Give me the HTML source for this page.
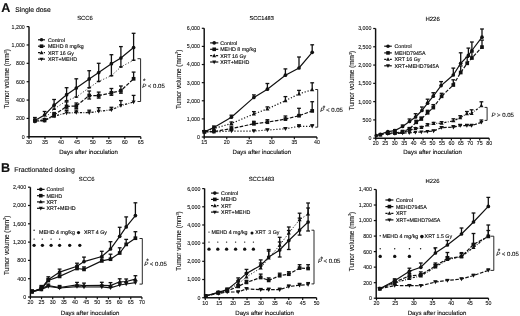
<!DOCTYPE html>
<html><head><meta charset="utf-8"><title>Tumor growth figure</title>
<style>
html,body{margin:0;padding:0;background:#fff;}
body{width:520px;height:316px;overflow:hidden;}
svg{display:block;}
svg text{font-family:"Liberation Sans", Arial, sans-serif;stroke:currentColor;stroke-width:0.12px;text-rendering:geometricPrecision;}
svg line,svg path.l{stroke:#111;}
svg text.tk{fill:#222;stroke-width:0.1px;text-rendering:auto;}
</style></head>
<body>
<svg width="520" height="316" viewBox="0 0 520 316" fill="#111">
<rect width="520" height="316" fill="#fff" stroke="none"/>
<g stroke="none">
</g>
<g>
<text x="1.3" y="11.6" font-size="12.6" font-weight="bold">A</text>
<text x="15.2" y="12.4" font-size="6.8" text-anchor="start" fill="#111">Single dose</text>
<text x="0.9" y="171.8" font-size="12.6" font-weight="bold">B</text>
<text x="14.2" y="172" font-size="6.9" text-anchor="start" fill="#111">Fractionated dosing</text>
<text x="85" y="19.6" font-size="5.9" text-anchor="middle" fill="#111">SCC6</text>
<path class="l" d="M29 26.6 L29 136.8 L140.8 136.8" fill="none" stroke-width="1.45"/>
<line x1="26.6" y1="136.8" x2="29" y2="136.8" stroke-width="1.2" />
<text x="24.8" y="138.7" font-size="5.3" text-anchor="end" class="tk">0</text>
<line x1="26.6" y1="118.43" x2="29" y2="118.43" stroke-width="1.2" />
<text x="24.8" y="120.33" font-size="5.3" text-anchor="end" class="tk">200</text>
<line x1="26.6" y1="100.07" x2="29" y2="100.07" stroke-width="1.2" />
<text x="24.8" y="101.97" font-size="5.3" text-anchor="end" class="tk">400</text>
<line x1="26.6" y1="81.7" x2="29" y2="81.7" stroke-width="1.2" />
<text x="24.8" y="83.6" font-size="5.3" text-anchor="end" class="tk">600</text>
<line x1="26.6" y1="63.33" x2="29" y2="63.33" stroke-width="1.2" />
<text x="24.8" y="65.23" font-size="5.3" text-anchor="end" class="tk">800</text>
<line x1="26.6" y1="44.97" x2="29" y2="44.97" stroke-width="1.2" />
<text x="24.8" y="46.87" font-size="5.3" text-anchor="end" class="tk">1,000</text>
<line x1="26.6" y1="26.6" x2="29" y2="26.6" stroke-width="1.2" />
<text x="24.8" y="28.5" font-size="5.3" text-anchor="end" class="tk">1,200</text>
<line x1="29" y1="136.8" x2="29" y2="139" stroke-width="1.2" />
<text x="29" y="143.7" font-size="5.3" text-anchor="middle" class="tk">30</text>
<line x1="44.97" y1="136.8" x2="44.97" y2="139" stroke-width="1.2" />
<text x="44.97" y="143.7" font-size="5.3" text-anchor="middle" class="tk">35</text>
<line x1="60.94" y1="136.8" x2="60.94" y2="139" stroke-width="1.2" />
<text x="60.94" y="143.7" font-size="5.3" text-anchor="middle" class="tk">40</text>
<line x1="76.91" y1="136.8" x2="76.91" y2="139" stroke-width="1.2" />
<text x="76.91" y="143.7" font-size="5.3" text-anchor="middle" class="tk">45</text>
<line x1="92.89" y1="136.8" x2="92.89" y2="139" stroke-width="1.2" />
<text x="92.89" y="143.7" font-size="5.3" text-anchor="middle" class="tk">50</text>
<line x1="108.86" y1="136.8" x2="108.86" y2="139" stroke-width="1.2" />
<text x="108.86" y="143.7" font-size="5.3" text-anchor="middle" class="tk">55</text>
<line x1="124.83" y1="136.8" x2="124.83" y2="139" stroke-width="1.2" />
<text x="124.83" y="143.7" font-size="5.3" text-anchor="middle" class="tk">60</text>
<line x1="140.8" y1="136.8" x2="140.8" y2="139" stroke-width="1.2" />
<text x="140.8" y="143.7" font-size="5.3" text-anchor="middle" class="tk">65</text>
<line x1="38" y1="39.8" x2="45" y2="39.8" stroke-width="1.2" />
<circle cx="41.5" cy="39.8" r="1.8"/>
<text x="47.9" y="41.7" font-size="5.3" text-anchor="start" fill="#111">Control</text>
<line x1="38" y1="46.2" x2="45" y2="46.2" stroke-width="1.2" />
<rect x="39.7" y="44.4" width="3.6" height="3.6"/>
<text x="47.9" y="48.1" font-size="5.3" text-anchor="start" fill="#111">MEHD 8 mg/kg</text>
<line x1="38" y1="52.7" x2="45" y2="52.7" stroke-width="1.2" stroke-dasharray="2.2 1.4 0.8 1.4"/>
<path d="M41.5 50.54L43.48 54.14L39.52 54.14Z"/>
<text x="47.9" y="54.6" font-size="5.3" text-anchor="start" fill="#111">XRT 16 Gy</text>
<line x1="38" y1="59.1" x2="45" y2="59.1" stroke-width="1.2" />
<path d="M41.5 61.26L43.48 57.66L39.52 57.66Z"/>
<text x="47.9" y="61" font-size="5.3" text-anchor="start" fill="#111">XRT+MEHD</text>
<path class="l" d="M34.9 121.5 L44.6 120.5 L54.1 116 L66.6 113 L76.3 112.6 L89.2 112.7 L98.7 111.3 L111.4 109.9 L120.9 105.6 L133.6 102" fill="none" stroke-width="1.2" stroke-dasharray="2.2 1.4 0.8 1.4"/>
<line x1="34.9" y1="120" x2="34.9" y2="121.5" stroke-width="1.3" />
<line x1="33" y1="120" x2="36.8" y2="120" stroke-width="1.3" />
<path d="M34.9 123.72L36.94 120.02L32.86 120.02Z"/>
<line x1="44.6" y1="119" x2="44.6" y2="120.5" stroke-width="1.3" />
<line x1="42.7" y1="119" x2="46.5" y2="119" stroke-width="1.3" />
<path d="M44.6 122.72L46.64 119.02L42.56 119.02Z"/>
<line x1="54.1" y1="114" x2="54.1" y2="116" stroke-width="1.3" />
<line x1="52.2" y1="114" x2="56" y2="114" stroke-width="1.3" />
<path d="M54.1 118.22L56.14 114.52L52.06 114.52Z"/>
<line x1="66.6" y1="110.5" x2="66.6" y2="113" stroke-width="1.3" />
<line x1="64.7" y1="110.5" x2="68.5" y2="110.5" stroke-width="1.3" />
<path d="M66.6 115.22L68.63 111.52L64.56 111.52Z"/>
<line x1="76.3" y1="110.1" x2="76.3" y2="112.6" stroke-width="1.3" />
<line x1="74.4" y1="110.1" x2="78.2" y2="110.1" stroke-width="1.3" />
<path d="M76.3 114.82L78.33 111.12L74.27 111.12Z"/>
<line x1="89.2" y1="110.2" x2="89.2" y2="112.7" stroke-width="1.3" />
<line x1="87.3" y1="110.2" x2="91.1" y2="110.2" stroke-width="1.3" />
<path d="M89.2 114.92L91.23 111.22L87.17 111.22Z"/>
<line x1="98.7" y1="107.7" x2="98.7" y2="111.3" stroke-width="1.3" />
<line x1="96.8" y1="107.7" x2="100.6" y2="107.7" stroke-width="1.3" />
<path d="M98.7 113.52L100.73 109.82L96.67 109.82Z"/>
<line x1="111.4" y1="107.3" x2="111.4" y2="109.9" stroke-width="1.3" />
<line x1="109.5" y1="107.3" x2="113.3" y2="107.3" stroke-width="1.3" />
<path d="M111.4 112.12L113.44 108.42L109.37 108.42Z"/>
<line x1="120.9" y1="100.6" x2="120.9" y2="105.6" stroke-width="1.3" />
<line x1="119" y1="100.6" x2="122.8" y2="100.6" stroke-width="1.3" />
<path d="M120.9 107.82L122.94 104.12L118.87 104.12Z"/>
<line x1="133.6" y1="95.4" x2="133.6" y2="102" stroke-width="1.3" />
<line x1="131.7" y1="95.4" x2="135.5" y2="95.4" stroke-width="1.3" />
<path d="M133.6 104.22L135.63 100.52L131.56 100.52Z"/>
<path class="l" d="M34.9 121 L44.6 120.5 L54.1 115 L66.6 106.4 L76.3 106 L89.2 95.5 L98.7 95.6 L111.4 92.8 L120.9 90.7 L133.6 78.8" fill="none" stroke-width="1.2" stroke-dasharray="3.6 1.5"/>
<line x1="34.9" y1="119" x2="34.9" y2="121" stroke-width="1.3" />
<line x1="33" y1="119" x2="36.8" y2="119" stroke-width="1.3" />
<rect x="33.05" y="119.15" width="3.7" height="3.7"/>
<line x1="44.6" y1="118.5" x2="44.6" y2="120.5" stroke-width="1.3" />
<line x1="42.7" y1="118.5" x2="46.5" y2="118.5" stroke-width="1.3" />
<rect x="42.75" y="118.65" width="3.7" height="3.7"/>
<line x1="54.1" y1="112.5" x2="54.1" y2="115" stroke-width="1.3" />
<line x1="52.2" y1="112.5" x2="56" y2="112.5" stroke-width="1.3" />
<line x1="54.1" y1="115" x2="54.1" y2="117" stroke-width="1.3" />
<line x1="52.2" y1="117" x2="56" y2="117" stroke-width="1.3" />
<rect x="52.25" y="113.15" width="3.7" height="3.7"/>
<line x1="66.6" y1="101.9" x2="66.6" y2="106.4" stroke-width="1.3" />
<line x1="64.7" y1="101.9" x2="68.5" y2="101.9" stroke-width="1.3" />
<line x1="66.6" y1="106.4" x2="66.6" y2="108.9" stroke-width="1.3" />
<line x1="64.7" y1="108.9" x2="68.5" y2="108.9" stroke-width="1.3" />
<rect x="64.75" y="104.55" width="3.7" height="3.7"/>
<line x1="76.3" y1="103" x2="76.3" y2="106" stroke-width="1.3" />
<line x1="74.4" y1="103" x2="78.2" y2="103" stroke-width="1.3" />
<line x1="76.3" y1="106" x2="76.3" y2="108.5" stroke-width="1.3" />
<line x1="74.4" y1="108.5" x2="78.2" y2="108.5" stroke-width="1.3" />
<rect x="74.45" y="104.15" width="3.7" height="3.7"/>
<line x1="89.2" y1="91" x2="89.2" y2="95.5" stroke-width="1.3" />
<line x1="87.3" y1="91" x2="91.1" y2="91" stroke-width="1.3" />
<line x1="89.2" y1="95.5" x2="89.2" y2="99" stroke-width="1.3" />
<line x1="87.3" y1="99" x2="91.1" y2="99" stroke-width="1.3" />
<rect x="87.35" y="93.65" width="3.7" height="3.7"/>
<line x1="98.7" y1="92.1" x2="98.7" y2="95.6" stroke-width="1.3" />
<line x1="96.8" y1="92.1" x2="100.6" y2="92.1" stroke-width="1.3" />
<line x1="98.7" y1="95.6" x2="98.7" y2="98.1" stroke-width="1.3" />
<line x1="96.8" y1="98.1" x2="100.6" y2="98.1" stroke-width="1.3" />
<rect x="96.85" y="93.75" width="3.7" height="3.7"/>
<line x1="111.4" y1="88.5" x2="111.4" y2="92.8" stroke-width="1.3" />
<line x1="109.5" y1="88.5" x2="113.3" y2="88.5" stroke-width="1.3" />
<line x1="111.4" y1="92.8" x2="111.4" y2="95.3" stroke-width="1.3" />
<line x1="109.5" y1="95.3" x2="113.3" y2="95.3" stroke-width="1.3" />
<rect x="109.55" y="90.95" width="3.7" height="3.7"/>
<line x1="120.9" y1="86" x2="120.9" y2="90.7" stroke-width="1.3" />
<line x1="119" y1="86" x2="122.8" y2="86" stroke-width="1.3" />
<line x1="120.9" y1="90.7" x2="120.9" y2="93.2" stroke-width="1.3" />
<line x1="119" y1="93.2" x2="122.8" y2="93.2" stroke-width="1.3" />
<rect x="119.05" y="88.85" width="3.7" height="3.7"/>
<line x1="133.6" y1="72.1" x2="133.6" y2="78.8" stroke-width="1.3" />
<line x1="131.7" y1="72.1" x2="135.5" y2="72.1" stroke-width="1.3" />
<rect x="131.75" y="76.95" width="3.7" height="3.7"/>
<path class="l" d="M34.9 121 L44.6 118.5 L54.1 109 L66.6 100.7 L76.3 97 L89.2 87.7 L98.7 81.4 L111.4 75.7 L120.9 66.9 L133.6 60.2" fill="none" stroke-width="0.8" stroke-dasharray="1.2 1.8"/>
<path d="M34.9 119.68L36.11 121.88L33.69 121.88Z"/>
<path d="M44.6 117.18L45.81 119.38L43.39 119.38Z"/>
<path d="M54.1 107.68L55.31 109.88L52.89 109.88Z"/>
<path d="M66.6 99.38L67.81 101.58L65.39 101.58Z"/>
<path d="M76.3 95.68L77.51 97.88L75.09 97.88Z"/>
<path d="M89.2 86.38L90.41 88.58L87.99 88.58Z"/>
<path d="M98.7 80.08L99.91 82.28L97.49 82.28Z"/>
<path d="M111.4 74.38L112.61 76.58L110.19 76.58Z"/>
<path d="M120.9 65.58L122.11 67.78L119.69 67.78Z"/>
<path d="M133.6 58.88L134.81 61.08L132.39 61.08Z"/>
<path class="l" d="M34.9 120.5 L44.6 115 L54.1 105.2 L66.6 94.7 L76.3 88 L89.2 78.9 L98.7 72.6 L111.4 63.7 L120.9 58 L133.6 47.5" fill="none" stroke-width="1.2" />
<line x1="34.9" y1="117.5" x2="34.9" y2="120.5" stroke-width="1.3" />
<line x1="33" y1="117.5" x2="36.8" y2="117.5" stroke-width="1.3" />
<circle cx="34.9" cy="120.5" r="1.85"/>
<line x1="44.6" y1="111.5" x2="44.6" y2="115" stroke-width="1.3" />
<line x1="42.7" y1="111.5" x2="46.5" y2="111.5" stroke-width="1.3" />
<circle cx="44.6" cy="115" r="1.85"/>
<line x1="54.1" y1="99.5" x2="54.1" y2="105.2" stroke-width="1.3" />
<line x1="52.2" y1="99.5" x2="56" y2="99.5" stroke-width="1.3" />
<line x1="54.1" y1="105.2" x2="54.1" y2="109.2" stroke-width="1.3" />
<line x1="52.2" y1="109.2" x2="56" y2="109.2" stroke-width="1.3" />
<circle cx="54.1" cy="105.2" r="1.85"/>
<line x1="66.6" y1="87.7" x2="66.6" y2="94.7" stroke-width="1.3" />
<line x1="64.7" y1="87.7" x2="68.5" y2="87.7" stroke-width="1.3" />
<line x1="66.6" y1="94.7" x2="66.6" y2="100.7" stroke-width="1.3" />
<line x1="64.7" y1="100.7" x2="68.5" y2="100.7" stroke-width="1.3" />
<circle cx="66.6" cy="94.7" r="1.85"/>
<line x1="76.3" y1="78.8" x2="76.3" y2="88" stroke-width="1.3" />
<line x1="74.4" y1="78.8" x2="78.2" y2="78.8" stroke-width="1.3" />
<line x1="76.3" y1="88" x2="76.3" y2="97" stroke-width="1.3" />
<line x1="74.4" y1="97" x2="78.2" y2="97" stroke-width="1.3" />
<circle cx="76.3" cy="88" r="1.85"/>
<line x1="89.2" y1="70.7" x2="89.2" y2="78.9" stroke-width="1.3" />
<line x1="87.3" y1="70.7" x2="91.1" y2="70.7" stroke-width="1.3" />
<line x1="89.2" y1="78.9" x2="89.2" y2="87.7" stroke-width="1.3" />
<line x1="87.3" y1="87.7" x2="91.1" y2="87.7" stroke-width="1.3" />
<circle cx="89.2" cy="78.9" r="1.85"/>
<line x1="98.7" y1="63.3" x2="98.7" y2="72.6" stroke-width="1.3" />
<line x1="96.8" y1="63.3" x2="100.6" y2="63.3" stroke-width="1.3" />
<line x1="98.7" y1="72.6" x2="98.7" y2="81.4" stroke-width="1.3" />
<line x1="96.8" y1="81.4" x2="100.6" y2="81.4" stroke-width="1.3" />
<circle cx="98.7" cy="72.6" r="1.85"/>
<line x1="111.4" y1="54.7" x2="111.4" y2="63.7" stroke-width="1.3" />
<line x1="109.5" y1="54.7" x2="113.3" y2="54.7" stroke-width="1.3" />
<line x1="111.4" y1="63.7" x2="111.4" y2="75.7" stroke-width="1.3" />
<line x1="109.5" y1="75.7" x2="113.3" y2="75.7" stroke-width="1.3" />
<circle cx="111.4" cy="63.7" r="1.85"/>
<line x1="120.9" y1="46.6" x2="120.9" y2="58" stroke-width="1.3" />
<line x1="119" y1="46.6" x2="122.8" y2="46.6" stroke-width="1.3" />
<line x1="120.9" y1="58" x2="120.9" y2="66.9" stroke-width="1.3" />
<line x1="119" y1="66.9" x2="122.8" y2="66.9" stroke-width="1.3" />
<circle cx="120.9" cy="58" r="1.85"/>
<line x1="133.6" y1="33.3" x2="133.6" y2="47.5" stroke-width="1.3" />
<line x1="131.7" y1="33.3" x2="135.5" y2="33.3" stroke-width="1.3" />
<line x1="133.6" y1="47.5" x2="133.6" y2="60.2" stroke-width="1.3" />
<line x1="131.7" y1="60.2" x2="135.5" y2="60.2" stroke-width="1.3" />
<circle cx="133.6" cy="47.5" r="1.85"/>
<path class="l" d="M137.5 58.7 L140.6 58.7 L140.6 101.5 L137.5 101.5" fill="none" stroke-width="0.9"/>
<text x="144.3" y="82.7" font-size="6.5" text-anchor="middle" fill="#111">*</text>
<text x="142.2" y="87.6" font-size="6.0" fill="#1a1a1a"><tspan font-style="italic">P</tspan> &lt; 0.05</text>
<text x="88.5" y="153.6" font-size="6.1" text-anchor="middle" fill="#111">Days after inoculation</text>
<text transform="translate(9.3,78.8) rotate(-90)" font-size="6.4" text-anchor="middle" class="tk">Tumor volume (mm<tspan font-size="3.97" dy="-2.2">3</tspan><tspan dy="2.2">)</tspan></text>
<text x="261.7" y="20" font-size="5.6" text-anchor="middle" fill="#111">SCC1483</text>
<path class="l" d="M204.2 28.3 L204.2 137 L316.9 137" fill="none" stroke-width="1.45"/>
<line x1="201.8" y1="137" x2="204.2" y2="137" stroke-width="1.2" />
<text x="200" y="138.9" font-size="5.3" text-anchor="end" class="tk">0</text>
<line x1="201.8" y1="118.88" x2="204.2" y2="118.88" stroke-width="1.2" />
<text x="200" y="120.78" font-size="5.3" text-anchor="end" class="tk">1,000</text>
<line x1="201.8" y1="100.77" x2="204.2" y2="100.77" stroke-width="1.2" />
<text x="200" y="102.67" font-size="5.3" text-anchor="end" class="tk">2,000</text>
<line x1="201.8" y1="82.65" x2="204.2" y2="82.65" stroke-width="1.2" />
<text x="200" y="84.55" font-size="5.3" text-anchor="end" class="tk">3,000</text>
<line x1="201.8" y1="64.53" x2="204.2" y2="64.53" stroke-width="1.2" />
<text x="200" y="66.43" font-size="5.3" text-anchor="end" class="tk">4,000</text>
<line x1="201.8" y1="46.42" x2="204.2" y2="46.42" stroke-width="1.2" />
<text x="200" y="48.32" font-size="5.3" text-anchor="end" class="tk">5,000</text>
<line x1="201.8" y1="28.3" x2="204.2" y2="28.3" stroke-width="1.2" />
<text x="200" y="30.2" font-size="5.3" text-anchor="end" class="tk">6,000</text>
<line x1="204.2" y1="137" x2="204.2" y2="139.2" stroke-width="1.2" />
<text x="204.2" y="143.9" font-size="5.3" text-anchor="middle" class="tk">15</text>
<line x1="226.74" y1="137" x2="226.74" y2="139.2" stroke-width="1.2" />
<text x="226.74" y="143.9" font-size="5.3" text-anchor="middle" class="tk">20</text>
<line x1="249.28" y1="137" x2="249.28" y2="139.2" stroke-width="1.2" />
<text x="249.28" y="143.9" font-size="5.3" text-anchor="middle" class="tk">25</text>
<line x1="271.82" y1="137" x2="271.82" y2="139.2" stroke-width="1.2" />
<text x="271.82" y="143.9" font-size="5.3" text-anchor="middle" class="tk">30</text>
<line x1="294.36" y1="137" x2="294.36" y2="139.2" stroke-width="1.2" />
<text x="294.36" y="143.9" font-size="5.3" text-anchor="middle" class="tk">35</text>
<line x1="316.9" y1="137" x2="316.9" y2="139.2" stroke-width="1.2" />
<text x="316.9" y="143.9" font-size="5.3" text-anchor="middle" class="tk">40</text>
<line x1="210.1" y1="42.9" x2="218.3" y2="42.9" stroke-width="1.2" />
<circle cx="214.2" cy="42.9" r="1.8"/>
<text x="220.2" y="44.8" font-size="5.3" text-anchor="start" fill="#111">Control</text>
<line x1="210.1" y1="49.3" x2="218.3" y2="49.3" stroke-width="1.2" />
<rect x="212.4" y="47.5" width="3.6" height="3.6"/>
<text x="220.2" y="51.2" font-size="5.3" text-anchor="start" fill="#111">MEHD 8 mg/kg</text>
<line x1="210.1" y1="55.7" x2="218.3" y2="55.7" stroke-width="1.2" stroke-dasharray="2.2 1.4 0.8 1.4"/>
<path d="M214.2 53.54L216.18 57.14L212.22 57.14Z"/>
<text x="220.2" y="57.6" font-size="5.3" text-anchor="start" fill="#111">XRT 16 Gy</text>
<line x1="210.1" y1="62" x2="218.3" y2="62" stroke-width="1.2" />
<path d="M214.2 64.16L216.18 60.56L212.22 60.56Z"/>
<text x="220.2" y="63.9" font-size="5.3" text-anchor="start" fill="#111">XRT+MEHD</text>
<path class="l" d="M204.4 131.8 L213.9 131.8 L231.4 131.1 L253.9 131.1 L267.4 130 L285.4 128.8 L299 126.3 L312.2 126.3" fill="none" stroke-width="1.2" stroke-dasharray="1.2 1.8"/>
<line x1="204.4" y1="130.8" x2="204.4" y2="131.8" stroke-width="1.3" />
<line x1="202.5" y1="130.8" x2="206.3" y2="130.8" stroke-width="1.3" />
<path d="M204.4 134.02L206.44 130.32L202.37 130.32Z"/>
<line x1="213.9" y1="130.8" x2="213.9" y2="131.8" stroke-width="1.3" />
<line x1="212" y1="130.8" x2="215.8" y2="130.8" stroke-width="1.3" />
<path d="M213.9 134.02L215.94 130.32L211.87 130.32Z"/>
<line x1="231.4" y1="130.1" x2="231.4" y2="131.1" stroke-width="1.3" />
<line x1="229.5" y1="130.1" x2="233.3" y2="130.1" stroke-width="1.3" />
<path d="M231.4 133.32L233.44 129.62L229.37 129.62Z"/>
<line x1="253.9" y1="130.1" x2="253.9" y2="131.1" stroke-width="1.3" />
<line x1="252" y1="130.1" x2="255.8" y2="130.1" stroke-width="1.3" />
<path d="M253.9 133.32L255.94 129.62L251.87 129.62Z"/>
<line x1="267.4" y1="129" x2="267.4" y2="130" stroke-width="1.3" />
<line x1="265.5" y1="129" x2="269.3" y2="129" stroke-width="1.3" />
<path d="M267.4 132.22L269.44 128.52L265.36 128.52Z"/>
<line x1="285.4" y1="127.8" x2="285.4" y2="128.8" stroke-width="1.3" />
<line x1="283.5" y1="127.8" x2="287.3" y2="127.8" stroke-width="1.3" />
<path d="M285.4 131.02L287.44 127.32L283.36 127.32Z"/>
<line x1="299" y1="124.8" x2="299" y2="126.3" stroke-width="1.3" />
<line x1="297.1" y1="124.8" x2="300.9" y2="124.8" stroke-width="1.3" />
<path d="M299 128.52L301.04 124.82L296.96 124.82Z"/>
<line x1="312.2" y1="124.8" x2="312.2" y2="126.3" stroke-width="1.3" />
<line x1="310.3" y1="124.8" x2="314.1" y2="124.8" stroke-width="1.3" />
<path d="M312.2 128.52L314.24 124.82L310.16 124.82Z"/>
<path class="l" d="M204.4 131.8 L213.9 131.5 L231.4 128.6 L253.9 123.8 L267.4 122.2 L285.4 119.1 L299 115.7 L312.2 110.9" fill="none" stroke-width="1.2" stroke-dasharray="3.6 1.5"/>
<line x1="204.4" y1="130.8" x2="204.4" y2="131.8" stroke-width="1.3" />
<line x1="202.5" y1="130.8" x2="206.3" y2="130.8" stroke-width="1.3" />
<rect x="202.55" y="129.95" width="3.7" height="3.7"/>
<line x1="213.9" y1="130.5" x2="213.9" y2="131.5" stroke-width="1.3" />
<line x1="212" y1="130.5" x2="215.8" y2="130.5" stroke-width="1.3" />
<rect x="212.05" y="129.65" width="3.7" height="3.7"/>
<line x1="231.4" y1="126.1" x2="231.4" y2="128.6" stroke-width="1.3" />
<line x1="229.5" y1="126.1" x2="233.3" y2="126.1" stroke-width="1.3" />
<rect x="229.55" y="126.75" width="3.7" height="3.7"/>
<line x1="253.9" y1="121.3" x2="253.9" y2="123.8" stroke-width="1.3" />
<line x1="252" y1="121.3" x2="255.8" y2="121.3" stroke-width="1.3" />
<rect x="252.05" y="121.95" width="3.7" height="3.7"/>
<line x1="267.4" y1="119.7" x2="267.4" y2="122.2" stroke-width="1.3" />
<line x1="265.5" y1="119.7" x2="269.3" y2="119.7" stroke-width="1.3" />
<rect x="265.55" y="120.35" width="3.7" height="3.7"/>
<line x1="285.4" y1="116" x2="285.4" y2="119.1" stroke-width="1.3" />
<line x1="283.5" y1="116" x2="287.3" y2="116" stroke-width="1.3" />
<rect x="283.55" y="117.25" width="3.7" height="3.7"/>
<line x1="299" y1="108.3" x2="299" y2="115.7" stroke-width="1.3" />
<line x1="297.1" y1="108.3" x2="300.9" y2="108.3" stroke-width="1.3" />
<rect x="297.15" y="113.85" width="3.7" height="3.7"/>
<line x1="312.2" y1="101.7" x2="312.2" y2="110.9" stroke-width="1.3" />
<line x1="310.3" y1="101.7" x2="314.1" y2="101.7" stroke-width="1.3" />
<rect x="310.35" y="109.05" width="3.7" height="3.7"/>
<path class="l" d="M204.4 131.8 L213.9 128.5 L231.4 123.5 L253.9 114 L267.4 108.9 L285.4 100.7 L299 93.9 L312.2 89.8" fill="none" stroke-width="1.2" stroke-dasharray="1.2 1.8"/>
<line x1="204.4" y1="130.8" x2="204.4" y2="131.8" stroke-width="1.3" />
<line x1="202.5" y1="130.8" x2="206.3" y2="130.8" stroke-width="1.3" />
<path d="M204.4 129.58L206.44 133.28L202.37 133.28Z"/>
<line x1="213.9" y1="127.5" x2="213.9" y2="128.5" stroke-width="1.3" />
<line x1="212" y1="127.5" x2="215.8" y2="127.5" stroke-width="1.3" />
<path d="M213.9 126.28L215.94 129.98L211.87 129.98Z"/>
<line x1="231.4" y1="122" x2="231.4" y2="123.5" stroke-width="1.3" />
<line x1="229.5" y1="122" x2="233.3" y2="122" stroke-width="1.3" />
<path d="M231.4 121.28L233.44 124.98L229.37 124.98Z"/>
<line x1="253.9" y1="111.6" x2="253.9" y2="114" stroke-width="1.3" />
<line x1="252" y1="111.6" x2="255.8" y2="111.6" stroke-width="1.3" />
<path d="M253.9 111.78L255.94 115.48L251.87 115.48Z"/>
<line x1="267.4" y1="106.9" x2="267.4" y2="108.9" stroke-width="1.3" />
<line x1="265.5" y1="106.9" x2="269.3" y2="106.9" stroke-width="1.3" />
<path d="M267.4 106.68L269.44 110.38L265.36 110.38Z"/>
<line x1="285.4" y1="96.6" x2="285.4" y2="100.7" stroke-width="1.3" />
<line x1="283.5" y1="96.6" x2="287.3" y2="96.6" stroke-width="1.3" />
<path d="M285.4 98.48L287.44 102.18L283.36 102.18Z"/>
<line x1="299" y1="90.4" x2="299" y2="93.9" stroke-width="1.3" />
<line x1="297.1" y1="90.4" x2="300.9" y2="90.4" stroke-width="1.3" />
<path d="M299 91.68L301.04 95.38L296.96 95.38Z"/>
<line x1="312.2" y1="82.8" x2="312.2" y2="89.8" stroke-width="1.3" />
<line x1="310.3" y1="82.8" x2="314.1" y2="82.8" stroke-width="1.3" />
<path d="M312.2 87.58L314.24 91.28L310.16 91.28Z"/>
<path class="l" d="M204.4 131.8 L213.9 127.5 L231.4 117.2 L253.9 97.4 L267.4 89.2 L285.4 75.2 L299 68 L312.2 52.3" fill="none" stroke-width="1.2" />
<line x1="204.4" y1="130.8" x2="204.4" y2="131.8" stroke-width="1.3" />
<line x1="202.5" y1="130.8" x2="206.3" y2="130.8" stroke-width="1.3" />
<circle cx="204.4" cy="131.8" r="1.85"/>
<line x1="213.9" y1="126" x2="213.9" y2="127.5" stroke-width="1.3" />
<line x1="212" y1="126" x2="215.8" y2="126" stroke-width="1.3" />
<circle cx="213.9" cy="127.5" r="1.85"/>
<line x1="231.4" y1="115.2" x2="231.4" y2="117.2" stroke-width="1.3" />
<line x1="229.5" y1="115.2" x2="233.3" y2="115.2" stroke-width="1.3" />
<circle cx="231.4" cy="117.2" r="1.85"/>
<line x1="253.9" y1="94.9" x2="253.9" y2="97.4" stroke-width="1.3" />
<line x1="252" y1="94.9" x2="255.8" y2="94.9" stroke-width="1.3" />
<circle cx="253.9" cy="97.4" r="1.85"/>
<line x1="267.4" y1="83.5" x2="267.4" y2="89.2" stroke-width="1.3" />
<line x1="265.5" y1="83.5" x2="269.3" y2="83.5" stroke-width="1.3" />
<circle cx="267.4" cy="89.2" r="1.85"/>
<line x1="285.4" y1="68.9" x2="285.4" y2="75.2" stroke-width="1.3" />
<line x1="283.5" y1="68.9" x2="287.3" y2="68.9" stroke-width="1.3" />
<circle cx="285.4" cy="75.2" r="1.85"/>
<line x1="299" y1="57" x2="299" y2="68" stroke-width="1.3" />
<line x1="297.1" y1="57" x2="300.9" y2="57" stroke-width="1.3" />
<circle cx="299" cy="68" r="1.85"/>
<line x1="312.2" y1="44.8" x2="312.2" y2="52.3" stroke-width="1.3" />
<line x1="310.3" y1="44.8" x2="314.1" y2="44.8" stroke-width="1.3" />
<circle cx="312.2" cy="52.3" r="1.85"/>
<path class="l" d="M315.3 89.5 L317.7 89.5 L317.7 127.2 L315.3 127.2" fill="none" stroke-width="0.9"/>
<text x="324" y="109.91" font-size="6.5" text-anchor="middle" fill="#111">*</text>
<text x="320.3" y="112.2" font-size="6.0" fill="#1a1a1a"><tspan font-style="italic">P</tspan> &lt; 0.05</text>
<text x="261.8" y="154.1" font-size="6.1" text-anchor="middle" fill="#111">Days after inoculation</text>
<text transform="translate(180.5,79.3) rotate(-90)" font-size="6.4" text-anchor="middle" class="tk">Tumor volume (mm<tspan font-size="3.97" dy="-2.2">3</tspan><tspan dy="2.2">)</tspan></text>
<text x="432.6" y="21.2" font-size="6.0" text-anchor="middle" fill="#111">H226</text>
<path class="l" d="M375.6 28.5 L375.6 138.2 L489.2 138.2" fill="none" stroke-width="1.45"/>
<line x1="373.2" y1="138.2" x2="375.6" y2="138.2" stroke-width="1.2" />
<text x="371.4" y="140.1" font-size="5.3" text-anchor="end" class="tk">0</text>
<line x1="373.2" y1="119.92" x2="375.6" y2="119.92" stroke-width="1.2" />
<text x="371.4" y="121.82" font-size="5.3" text-anchor="end" class="tk">500</text>
<line x1="373.2" y1="101.63" x2="375.6" y2="101.63" stroke-width="1.2" />
<text x="371.4" y="103.53" font-size="5.3" text-anchor="end" class="tk">1,000</text>
<line x1="373.2" y1="83.35" x2="375.6" y2="83.35" stroke-width="1.2" />
<text x="371.4" y="85.25" font-size="5.3" text-anchor="end" class="tk">1,500</text>
<line x1="373.2" y1="65.07" x2="375.6" y2="65.07" stroke-width="1.2" />
<text x="371.4" y="66.97" font-size="5.3" text-anchor="end" class="tk">2,000</text>
<line x1="373.2" y1="46.78" x2="375.6" y2="46.78" stroke-width="1.2" />
<text x="371.4" y="48.68" font-size="5.3" text-anchor="end" class="tk">2,500</text>
<line x1="373.2" y1="28.5" x2="375.6" y2="28.5" stroke-width="1.2" />
<text x="371.4" y="30.4" font-size="5.3" text-anchor="end" class="tk">3,000</text>
<line x1="375.8" y1="138.2" x2="375.8" y2="140.4" stroke-width="1.2" />
<text x="375.8" y="145.1" font-size="5.3" text-anchor="middle" class="tk">20</text>
<line x1="385.25" y1="138.2" x2="385.25" y2="140.4" stroke-width="1.2" />
<text x="385.25" y="145.1" font-size="5.3" text-anchor="middle" class="tk">25</text>
<line x1="394.7" y1="138.2" x2="394.7" y2="140.4" stroke-width="1.2" />
<text x="394.7" y="145.1" font-size="5.3" text-anchor="middle" class="tk">30</text>
<line x1="404.15" y1="138.2" x2="404.15" y2="140.4" stroke-width="1.2" />
<text x="404.15" y="145.1" font-size="5.3" text-anchor="middle" class="tk">35</text>
<line x1="413.6" y1="138.2" x2="413.6" y2="140.4" stroke-width="1.2" />
<text x="413.6" y="145.1" font-size="5.3" text-anchor="middle" class="tk">40</text>
<line x1="423.05" y1="138.2" x2="423.05" y2="140.4" stroke-width="1.2" />
<text x="423.05" y="145.1" font-size="5.3" text-anchor="middle" class="tk">45</text>
<line x1="432.5" y1="138.2" x2="432.5" y2="140.4" stroke-width="1.2" />
<text x="432.5" y="145.1" font-size="5.3" text-anchor="middle" class="tk">50</text>
<line x1="441.95" y1="138.2" x2="441.95" y2="140.4" stroke-width="1.2" />
<text x="441.95" y="145.1" font-size="5.3" text-anchor="middle" class="tk">55</text>
<line x1="451.4" y1="138.2" x2="451.4" y2="140.4" stroke-width="1.2" />
<text x="451.4" y="145.1" font-size="5.3" text-anchor="middle" class="tk">60</text>
<line x1="460.85" y1="138.2" x2="460.85" y2="140.4" stroke-width="1.2" />
<text x="460.85" y="145.1" font-size="5.3" text-anchor="middle" class="tk">65</text>
<line x1="470.3" y1="138.2" x2="470.3" y2="140.4" stroke-width="1.2" />
<text x="470.3" y="145.1" font-size="5.3" text-anchor="middle" class="tk">70</text>
<line x1="479.75" y1="138.2" x2="479.75" y2="140.4" stroke-width="1.2" />
<text x="479.75" y="145.1" font-size="5.3" text-anchor="middle" class="tk">75</text>
<line x1="489.2" y1="138.2" x2="489.2" y2="140.4" stroke-width="1.2" />
<text x="489.2" y="145.1" font-size="5.3" text-anchor="middle" class="tk">80</text>
<line x1="384.2" y1="46.2" x2="391.8" y2="46.2" stroke-width="1.2" />
<circle cx="388" cy="46.2" r="1.8"/>
<text x="394.5" y="48.1" font-size="5.3" text-anchor="start" fill="#111">Control</text>
<line x1="384.2" y1="52.9" x2="391.8" y2="52.9" stroke-width="1.2" />
<rect x="386.2" y="51.1" width="3.6" height="3.6"/>
<text x="394.5" y="54.8" font-size="5.3" text-anchor="start" fill="#111">MEHD7945A</text>
<line x1="384.2" y1="59.4" x2="391.8" y2="59.4" stroke-width="1.2" stroke-dasharray="2.2 1.4 0.8 1.4"/>
<path d="M388 57.24L389.98 60.84L386.02 60.84Z"/>
<text x="394.5" y="61.3" font-size="5.3" text-anchor="start" fill="#111">XRT 16 Gy</text>
<line x1="384.2" y1="65.8" x2="391.8" y2="65.8" stroke-width="1.2" />
<path d="M388 67.96L389.98 64.36L386.02 64.36Z"/>
<text x="394.5" y="67.7" font-size="5.3" text-anchor="start" fill="#111">XRT+MEHD7945A</text>
<path class="l" d="M387.8 133.8 L394.9 133.5 L402.6 133 L409.3 132.8 L415.4 132.3 L421.4 132 L427.5 131.6 L433.6 131 L441.6 127.6 L453.4 127.2 L460.2 125.6 L466.9 125.6 L471.6 125.6 L481.4 122.4" fill="none" stroke-width="1.2" stroke-dasharray="3.6 1.5"/>
<path d="M387.8 136.02L389.84 132.32L385.76 132.32Z"/>
<path d="M394.9 135.72L396.94 132.02L392.86 132.02Z"/>
<path d="M402.6 135.22L404.64 131.52L400.56 131.52Z"/>
<path d="M409.3 135.02L411.34 131.32L407.26 131.32Z"/>
<path d="M415.4 134.52L417.44 130.82L413.36 130.82Z"/>
<path d="M421.4 134.22L423.44 130.52L419.36 130.52Z"/>
<path d="M427.5 133.82L429.54 130.12L425.46 130.12Z"/>
<line x1="433.6" y1="130" x2="433.6" y2="131" stroke-width="1.3" />
<line x1="431.7" y1="130" x2="435.5" y2="130" stroke-width="1.3" />
<path d="M433.6 133.22L435.64 129.52L431.56 129.52Z"/>
<line x1="441.6" y1="126.6" x2="441.6" y2="127.6" stroke-width="1.3" />
<line x1="439.7" y1="126.6" x2="443.5" y2="126.6" stroke-width="1.3" />
<path d="M441.6 129.82L443.64 126.12L439.56 126.12Z"/>
<line x1="453.4" y1="125.7" x2="453.4" y2="127.2" stroke-width="1.3" />
<line x1="451.5" y1="125.7" x2="455.3" y2="125.7" stroke-width="1.3" />
<path d="M453.4 129.42L455.44 125.72L451.36 125.72Z"/>
<line x1="460.2" y1="124.4" x2="460.2" y2="125.6" stroke-width="1.3" />
<line x1="458.3" y1="124.4" x2="462.1" y2="124.4" stroke-width="1.3" />
<path d="M460.2 127.82L462.24 124.12L458.16 124.12Z"/>
<line x1="466.9" y1="124.4" x2="466.9" y2="125.6" stroke-width="1.3" />
<line x1="465" y1="124.4" x2="468.8" y2="124.4" stroke-width="1.3" />
<path d="M466.9 127.82L468.94 124.12L464.86 124.12Z"/>
<line x1="471.6" y1="124.4" x2="471.6" y2="125.6" stroke-width="1.3" />
<line x1="469.7" y1="124.4" x2="473.5" y2="124.4" stroke-width="1.3" />
<path d="M471.6 127.82L473.64 124.12L469.56 124.12Z"/>
<line x1="481.4" y1="120" x2="481.4" y2="122.4" stroke-width="1.3" />
<line x1="479.5" y1="120" x2="483.3" y2="120" stroke-width="1.3" />
<path d="M481.4 124.62L483.44 120.92L479.36 120.92Z"/>
<path class="l" d="M387.8 133.5 L394.9 133 L402.6 132.5 L409.3 130.2 L415.4 128.6 L421.4 127.6 L427.5 124.9 L433.6 123.6 L441.6 123.2 L453.4 120.8 L460.2 117.7 L466.9 113.7 L471.6 113.4 L481.4 105.8" fill="none" stroke-width="1.2" stroke-dasharray="2.2 1.4 0.8 1.4"/>
<path d="M387.8 131.28L389.84 134.98L385.76 134.98Z"/>
<path d="M394.9 130.78L396.94 134.48L392.86 134.48Z"/>
<path d="M402.6 130.28L404.64 133.98L400.56 133.98Z"/>
<line x1="409.3" y1="129.2" x2="409.3" y2="130.2" stroke-width="1.3" />
<line x1="407.4" y1="129.2" x2="411.2" y2="129.2" stroke-width="1.3" />
<path d="M409.3 127.98L411.34 131.68L407.26 131.68Z"/>
<line x1="415.4" y1="127.6" x2="415.4" y2="128.6" stroke-width="1.3" />
<line x1="413.5" y1="127.6" x2="417.3" y2="127.6" stroke-width="1.3" />
<path d="M415.4 126.38L417.44 130.08L413.36 130.08Z"/>
<line x1="421.4" y1="126.4" x2="421.4" y2="127.6" stroke-width="1.3" />
<line x1="419.5" y1="126.4" x2="423.3" y2="126.4" stroke-width="1.3" />
<path d="M421.4 125.38L423.44 129.08L419.36 129.08Z"/>
<line x1="427.5" y1="123.7" x2="427.5" y2="124.9" stroke-width="1.3" />
<line x1="425.6" y1="123.7" x2="429.4" y2="123.7" stroke-width="1.3" />
<path d="M427.5 122.68L429.54 126.38L425.46 126.38Z"/>
<line x1="433.6" y1="122.4" x2="433.6" y2="123.6" stroke-width="1.3" />
<line x1="431.7" y1="122.4" x2="435.5" y2="122.4" stroke-width="1.3" />
<path d="M433.6 121.38L435.64 125.08L431.56 125.08Z"/>
<line x1="441.6" y1="121.7" x2="441.6" y2="123.2" stroke-width="1.3" />
<line x1="439.7" y1="121.7" x2="443.5" y2="121.7" stroke-width="1.3" />
<path d="M441.6 120.98L443.64 124.68L439.56 124.68Z"/>
<line x1="453.4" y1="118.8" x2="453.4" y2="120.8" stroke-width="1.3" />
<line x1="451.5" y1="118.8" x2="455.3" y2="118.8" stroke-width="1.3" />
<path d="M453.4 118.58L455.44 122.28L451.36 122.28Z"/>
<line x1="460.2" y1="115.7" x2="460.2" y2="117.7" stroke-width="1.3" />
<line x1="458.3" y1="115.7" x2="462.1" y2="115.7" stroke-width="1.3" />
<path d="M460.2 115.48L462.24 119.18L458.16 119.18Z"/>
<line x1="466.9" y1="111.5" x2="466.9" y2="113.7" stroke-width="1.3" />
<line x1="465" y1="111.5" x2="468.8" y2="111.5" stroke-width="1.3" />
<path d="M466.9 111.48L468.94 115.18L464.86 115.18Z"/>
<line x1="471.6" y1="109.8" x2="471.6" y2="113.4" stroke-width="1.3" />
<line x1="469.7" y1="109.8" x2="473.5" y2="109.8" stroke-width="1.3" />
<path d="M471.6 111.18L473.64 114.88L469.56 114.88Z"/>
<line x1="481.4" y1="101.8" x2="481.4" y2="105.8" stroke-width="1.3" />
<line x1="479.5" y1="101.8" x2="483.3" y2="101.8" stroke-width="1.3" />
<path d="M481.4 103.58L483.44 107.28L479.36 107.28Z"/>
<path class="l" d="M380.4 134.8 L387.8 133 L394.9 133 L402.6 131.6 L409.5 129 L416.2 122.3 L421.3 119 L427.6 112.8 L433.3 107.6 L441.6 96.3 L453.3 85 L460.7 72.5 L467.2 63.3 L471.9 58 L482 47.1" fill="none" stroke-width="1.2" stroke-dasharray="3.6 1.5"/>
<rect x="378.55" y="132.95" width="3.7" height="3.7"/>
<rect x="385.95" y="131.15" width="3.7" height="3.7"/>
<line x1="394.9" y1="132" x2="394.9" y2="133" stroke-width="1.3" />
<line x1="393" y1="132" x2="396.8" y2="132" stroke-width="1.3" />
<rect x="393.05" y="131.15" width="3.7" height="3.7"/>
<line x1="402.6" y1="130.6" x2="402.6" y2="131.6" stroke-width="1.3" />
<line x1="400.7" y1="130.6" x2="404.5" y2="130.6" stroke-width="1.3" />
<rect x="400.75" y="129.75" width="3.7" height="3.7"/>
<line x1="409.5" y1="127.5" x2="409.5" y2="129" stroke-width="1.3" />
<line x1="407.6" y1="127.5" x2="411.4" y2="127.5" stroke-width="1.3" />
<rect x="407.65" y="127.15" width="3.7" height="3.7"/>
<line x1="416.2" y1="120.3" x2="416.2" y2="122.3" stroke-width="1.3" />
<line x1="414.3" y1="120.3" x2="418.1" y2="120.3" stroke-width="1.3" />
<rect x="414.35" y="120.45" width="3.7" height="3.7"/>
<line x1="421.3" y1="117" x2="421.3" y2="119" stroke-width="1.3" />
<line x1="419.4" y1="117" x2="423.2" y2="117" stroke-width="1.3" />
<rect x="419.45" y="117.15" width="3.7" height="3.7"/>
<line x1="427.6" y1="110.3" x2="427.6" y2="112.8" stroke-width="1.3" />
<line x1="425.7" y1="110.3" x2="429.5" y2="110.3" stroke-width="1.3" />
<rect x="425.75" y="110.95" width="3.7" height="3.7"/>
<line x1="433.3" y1="104.6" x2="433.3" y2="107.6" stroke-width="1.3" />
<line x1="431.4" y1="104.6" x2="435.2" y2="104.6" stroke-width="1.3" />
<rect x="431.45" y="105.75" width="3.7" height="3.7"/>
<line x1="441.6" y1="93.3" x2="441.6" y2="96.3" stroke-width="1.3" />
<line x1="439.7" y1="93.3" x2="443.5" y2="93.3" stroke-width="1.3" />
<rect x="439.75" y="94.45" width="3.7" height="3.7"/>
<line x1="453.3" y1="79.8" x2="453.3" y2="85" stroke-width="1.3" />
<line x1="451.4" y1="79.8" x2="455.2" y2="79.8" stroke-width="1.3" />
<rect x="451.45" y="83.15" width="3.7" height="3.7"/>
<line x1="460.7" y1="65.9" x2="460.7" y2="72.5" stroke-width="1.3" />
<line x1="458.8" y1="65.9" x2="462.6" y2="65.9" stroke-width="1.3" />
<rect x="458.85" y="70.65" width="3.7" height="3.7"/>
<line x1="467.2" y1="57.3" x2="467.2" y2="63.3" stroke-width="1.3" />
<line x1="465.3" y1="57.3" x2="469.1" y2="57.3" stroke-width="1.3" />
<rect x="465.35" y="61.45" width="3.7" height="3.7"/>
<line x1="471.9" y1="52" x2="471.9" y2="58" stroke-width="1.3" />
<line x1="470" y1="52" x2="473.8" y2="52" stroke-width="1.3" />
<rect x="470.05" y="56.15" width="3.7" height="3.7"/>
<line x1="482" y1="40.1" x2="482" y2="47.1" stroke-width="1.3" />
<line x1="480.1" y1="40.1" x2="483.9" y2="40.1" stroke-width="1.3" />
<rect x="480.15" y="45.25" width="3.7" height="3.7"/>
<path class="l" d="M376.3 135.6 L380.4 134.3 L387.8 131.6 L394.9 130.6 L402.6 126.5 L409.5 121.5 L415.6 117 L421.9 110.5 L427.6 103.2 L433.3 96.2 L441.1 85.6 L453.3 75 L460.7 63.3 L468.4 55.4 L471.9 50.5 L482 37.2" fill="none" stroke-width="1.2" />
<circle cx="376.3" cy="135.6" r="1.85"/>
<circle cx="380.4" cy="134.3" r="1.85"/>
<circle cx="387.8" cy="131.6" r="1.85"/>
<line x1="394.9" y1="129.6" x2="394.9" y2="130.6" stroke-width="1.3" />
<line x1="393" y1="129.6" x2="396.8" y2="129.6" stroke-width="1.3" />
<circle cx="394.9" cy="130.6" r="1.85"/>
<line x1="402.6" y1="125" x2="402.6" y2="126.5" stroke-width="1.3" />
<line x1="400.7" y1="125" x2="404.5" y2="125" stroke-width="1.3" />
<circle cx="402.6" cy="126.5" r="1.85"/>
<line x1="409.5" y1="119" x2="409.5" y2="121.5" stroke-width="1.3" />
<line x1="407.6" y1="119" x2="411.4" y2="119" stroke-width="1.3" />
<circle cx="409.5" cy="121.5" r="1.85"/>
<line x1="415.6" y1="113.7" x2="415.6" y2="117" stroke-width="1.3" />
<line x1="413.7" y1="113.7" x2="417.5" y2="113.7" stroke-width="1.3" />
<circle cx="415.6" cy="117" r="1.85"/>
<line x1="421.9" y1="107" x2="421.9" y2="110.5" stroke-width="1.3" />
<line x1="420" y1="107" x2="423.8" y2="107" stroke-width="1.3" />
<circle cx="421.9" cy="110.5" r="1.85"/>
<line x1="427.6" y1="99.2" x2="427.6" y2="103.2" stroke-width="1.3" />
<line x1="425.7" y1="99.2" x2="429.5" y2="99.2" stroke-width="1.3" />
<circle cx="427.6" cy="103.2" r="1.85"/>
<line x1="433.3" y1="92.7" x2="433.3" y2="96.2" stroke-width="1.3" />
<line x1="431.4" y1="92.7" x2="435.2" y2="92.7" stroke-width="1.3" />
<circle cx="433.3" cy="96.2" r="1.85"/>
<line x1="441.1" y1="81.6" x2="441.1" y2="85.6" stroke-width="1.3" />
<line x1="439.2" y1="81.6" x2="443" y2="81.6" stroke-width="1.3" />
<circle cx="441.1" cy="85.6" r="1.85"/>
<line x1="453.3" y1="68.1" x2="453.3" y2="75" stroke-width="1.3" />
<line x1="451.4" y1="68.1" x2="455.2" y2="68.1" stroke-width="1.3" />
<circle cx="453.3" cy="75" r="1.85"/>
<line x1="460.7" y1="52.8" x2="460.7" y2="63.3" stroke-width="1.3" />
<line x1="458.8" y1="52.8" x2="462.6" y2="52.8" stroke-width="1.3" />
<circle cx="460.7" cy="63.3" r="1.85"/>
<line x1="468.4" y1="48.1" x2="468.4" y2="55.4" stroke-width="1.3" />
<line x1="466.5" y1="48.1" x2="470.3" y2="48.1" stroke-width="1.3" />
<circle cx="468.4" cy="55.4" r="1.85"/>
<line x1="471.9" y1="42" x2="471.9" y2="50.5" stroke-width="1.3" />
<line x1="470" y1="42" x2="473.8" y2="42" stroke-width="1.3" />
<circle cx="471.9" cy="50.5" r="1.85"/>
<line x1="482" y1="29" x2="482" y2="37.2" stroke-width="1.3" />
<line x1="480.1" y1="29" x2="483.9" y2="29" stroke-width="1.3" />
<circle cx="482" cy="37.2" r="1.85"/>
<path class="l" d="M484.6 107.4 L487.1 107.4 L487.1 120.4 L484.6 120.4" fill="none" stroke-width="0.9"/>
<text x="491.4" y="116.6" font-size="6.0" fill="#1a1a1a"><tspan font-style="italic">P</tspan> &gt; 0.05</text>
<text x="432.5" y="153.6" font-size="6.1" text-anchor="middle" fill="#111">Days after inoculation</text>
<text transform="translate(354.1,80.5) rotate(-90)" font-size="6.4" text-anchor="middle" class="tk">Tumor volume (mm<tspan font-size="3.97" dy="-2.2">3</tspan><tspan dy="2.2">)</tspan></text>
<text x="86.7" y="180.6" font-size="5.9" text-anchor="middle" fill="#111">SCC6</text>
<path class="l" d="M30.4 187.2 L30.4 297 L141.9 297" fill="none" stroke-width="1.45"/>
<line x1="28" y1="297" x2="30.4" y2="297" stroke-width="1.2" />
<text x="26.2" y="298.9" font-size="5.3" text-anchor="end" class="tk">0</text>
<line x1="28" y1="278.7" x2="30.4" y2="278.7" stroke-width="1.2" />
<text x="26.2" y="280.6" font-size="5.3" text-anchor="end" class="tk">400</text>
<line x1="28" y1="260.4" x2="30.4" y2="260.4" stroke-width="1.2" />
<text x="26.2" y="262.3" font-size="5.3" text-anchor="end" class="tk">800</text>
<line x1="28" y1="242.1" x2="30.4" y2="242.1" stroke-width="1.2" />
<text x="26.2" y="244" font-size="5.3" text-anchor="end" class="tk">1,200</text>
<line x1="28" y1="223.8" x2="30.4" y2="223.8" stroke-width="1.2" />
<text x="26.2" y="225.7" font-size="5.3" text-anchor="end" class="tk">1,600</text>
<line x1="28" y1="205.5" x2="30.4" y2="205.5" stroke-width="1.2" />
<text x="26.2" y="207.4" font-size="5.3" text-anchor="end" class="tk">2,000</text>
<line x1="28" y1="187.2" x2="30.4" y2="187.2" stroke-width="1.2" />
<text x="26.2" y="189.1" font-size="5.3" text-anchor="end" class="tk">2,400</text>
<line x1="30.4" y1="297" x2="30.4" y2="299.2" stroke-width="1.2" />
<text x="30.4" y="303.9" font-size="5.3" text-anchor="middle" class="tk">20</text>
<line x1="41.55" y1="297" x2="41.55" y2="299.2" stroke-width="1.2" />
<text x="41.55" y="303.9" font-size="5.3" text-anchor="middle" class="tk">25</text>
<line x1="52.7" y1="297" x2="52.7" y2="299.2" stroke-width="1.2" />
<text x="52.7" y="303.9" font-size="5.3" text-anchor="middle" class="tk">30</text>
<line x1="63.85" y1="297" x2="63.85" y2="299.2" stroke-width="1.2" />
<text x="63.85" y="303.9" font-size="5.3" text-anchor="middle" class="tk">35</text>
<line x1="75" y1="297" x2="75" y2="299.2" stroke-width="1.2" />
<text x="75" y="303.9" font-size="5.3" text-anchor="middle" class="tk">40</text>
<line x1="86.15" y1="297" x2="86.15" y2="299.2" stroke-width="1.2" />
<text x="86.15" y="303.9" font-size="5.3" text-anchor="middle" class="tk">45</text>
<line x1="97.3" y1="297" x2="97.3" y2="299.2" stroke-width="1.2" />
<text x="97.3" y="303.9" font-size="5.3" text-anchor="middle" class="tk">50</text>
<line x1="108.45" y1="297" x2="108.45" y2="299.2" stroke-width="1.2" />
<text x="108.45" y="303.9" font-size="5.3" text-anchor="middle" class="tk">55</text>
<line x1="119.6" y1="297" x2="119.6" y2="299.2" stroke-width="1.2" />
<text x="119.6" y="303.9" font-size="5.3" text-anchor="middle" class="tk">60</text>
<line x1="130.75" y1="297" x2="130.75" y2="299.2" stroke-width="1.2" />
<text x="130.75" y="303.9" font-size="5.3" text-anchor="middle" class="tk">65</text>
<line x1="141.9" y1="297" x2="141.9" y2="299.2" stroke-width="1.2" />
<text x="141.9" y="303.9" font-size="5.3" text-anchor="middle" class="tk">70</text>
<line x1="37" y1="189.4" x2="44.6" y2="189.4" stroke-width="1.2" />
<circle cx="40.8" cy="189.4" r="1.8"/>
<text x="46.5" y="191.3" font-size="5.3" text-anchor="start" fill="#111">Control</text>
<line x1="37" y1="195.7" x2="44.6" y2="195.7" stroke-width="1.2" />
<rect x="39" y="193.9" width="3.6" height="3.6"/>
<text x="46.5" y="197.6" font-size="5.3" text-anchor="start" fill="#111">MEHD</text>
<line x1="37" y1="201.9" x2="44.6" y2="201.9" stroke-width="1.2" />
<path d="M40.8 199.74L42.78 203.34L38.82 203.34Z"/>
<text x="46.5" y="203.8" font-size="5.3" text-anchor="start" fill="#111">XRT</text>
<line x1="37" y1="208.3" x2="44.6" y2="208.3" stroke-width="1.2" />
<path d="M40.8 210.46L42.78 206.86L38.82 206.86Z"/>
<text x="46.5" y="210.2" font-size="5.3" text-anchor="start" fill="#111">XRT+MEHD</text>
<circle cx="34.1" cy="230.3" r="0.7"/>
<text x="39" y="233.6" font-size="5.3" text-anchor="start" fill="#111">MEHD 4 mg/kg</text>
<circle cx="78.5" cy="232.6" r="1.6"/>
<text x="83.9" y="233.9" font-size="5.3" text-anchor="start" fill="#111">XRT 4 Gy</text>
<circle cx="34.1" cy="239.1" r="0.7"/>
<circle cx="42.3" cy="239.1" r="0.7"/>
<circle cx="51.1" cy="239.1" r="0.7"/>
<circle cx="59.6" cy="239.1" r="0.7"/>
<circle cx="34.1" cy="245.3" r="1.65"/>
<circle cx="42.4" cy="245.3" r="1.65"/>
<circle cx="51.1" cy="245.3" r="1.65"/>
<circle cx="59.6" cy="245.3" r="1.65"/>
<circle cx="69.7" cy="245.3" r="1.65"/>
<circle cx="79.8" cy="245.3" r="1.65"/>
<path class="l" d="M32.1 291.7 L41.3 289.4 L48.3 286.5 L59.6 288 L77 286.6 L84 287 L101.8 287 L110.5 287.9 L119.7 285 L126.2 284 L135.4 282.7" fill="none" stroke-width="1.2" />
<line x1="32.1" y1="290.7" x2="32.1" y2="291.7" stroke-width="1.3" />
<line x1="30.2" y1="290.7" x2="34" y2="290.7" stroke-width="1.3" />
<path d="M32.1 293.92L34.14 290.22L30.07 290.22Z"/>
<line x1="41.3" y1="287.9" x2="41.3" y2="289.4" stroke-width="1.3" />
<line x1="39.4" y1="287.9" x2="43.2" y2="287.9" stroke-width="1.3" />
<path d="M41.3 291.62L43.33 287.92L39.27 287.92Z"/>
<line x1="48.3" y1="285" x2="48.3" y2="286.5" stroke-width="1.3" />
<line x1="46.4" y1="285" x2="50.2" y2="285" stroke-width="1.3" />
<path d="M48.3 288.72L50.33 285.02L46.27 285.02Z"/>
<line x1="59.6" y1="286.5" x2="59.6" y2="288" stroke-width="1.3" />
<line x1="57.7" y1="286.5" x2="61.5" y2="286.5" stroke-width="1.3" />
<path d="M59.6 290.22L61.64 286.52L57.56 286.52Z"/>
<line x1="77" y1="285.1" x2="77" y2="286.6" stroke-width="1.3" />
<line x1="75.1" y1="285.1" x2="78.9" y2="285.1" stroke-width="1.3" />
<path d="M77 288.82L79.03 285.12L74.97 285.12Z"/>
<line x1="84" y1="285.5" x2="84" y2="287" stroke-width="1.3" />
<line x1="82.1" y1="285.5" x2="85.9" y2="285.5" stroke-width="1.3" />
<path d="M84 289.22L86.03 285.52L81.97 285.52Z"/>
<line x1="101.8" y1="285" x2="101.8" y2="287" stroke-width="1.3" />
<line x1="99.9" y1="285" x2="103.7" y2="285" stroke-width="1.3" />
<path d="M101.8 289.22L103.83 285.52L99.77 285.52Z"/>
<line x1="110.5" y1="285.9" x2="110.5" y2="287.9" stroke-width="1.3" />
<line x1="108.6" y1="285.9" x2="112.4" y2="285.9" stroke-width="1.3" />
<path d="M110.5 290.12L112.53 286.42L108.47 286.42Z"/>
<line x1="119.7" y1="283" x2="119.7" y2="285" stroke-width="1.3" />
<line x1="117.8" y1="283" x2="121.6" y2="283" stroke-width="1.3" />
<path d="M119.7 287.22L121.73 283.52L117.67 283.52Z"/>
<line x1="126.2" y1="282" x2="126.2" y2="284" stroke-width="1.3" />
<line x1="124.3" y1="282" x2="128.1" y2="282" stroke-width="1.3" />
<path d="M126.2 286.22L128.24 282.52L124.17 282.52Z"/>
<line x1="135.4" y1="280.7" x2="135.4" y2="282.7" stroke-width="1.3" />
<line x1="133.5" y1="280.7" x2="137.3" y2="280.7" stroke-width="1.3" />
<path d="M135.4 284.92L137.44 281.22L133.37 281.22Z"/>
<path class="l" d="M32.1 291.7 L41.3 288.5 L48.3 285.6 L59.6 287.5 L77 284.9 L84 285.6 L101.8 285.3 L110.5 285.6 L119.7 281.8 L126.2 281.5 L135.4 279.2" fill="none" stroke-width="1.2" />
<line x1="32.1" y1="290.2" x2="32.1" y2="291.7" stroke-width="1.3" />
<line x1="30.2" y1="290.2" x2="34" y2="290.2" stroke-width="1.3" />
<path d="M32.1 289.48L34.14 293.18L30.07 293.18Z"/>
<line x1="41.3" y1="286.5" x2="41.3" y2="288.5" stroke-width="1.3" />
<line x1="39.4" y1="286.5" x2="43.2" y2="286.5" stroke-width="1.3" />
<path d="M41.3 286.28L43.33 289.98L39.27 289.98Z"/>
<line x1="48.3" y1="284.1" x2="48.3" y2="285.6" stroke-width="1.3" />
<line x1="46.4" y1="284.1" x2="50.2" y2="284.1" stroke-width="1.3" />
<path d="M48.3 283.38L50.33 287.08L46.27 287.08Z"/>
<line x1="59.6" y1="285.5" x2="59.6" y2="287.5" stroke-width="1.3" />
<line x1="57.7" y1="285.5" x2="61.5" y2="285.5" stroke-width="1.3" />
<path d="M59.6 285.28L61.64 288.98L57.56 288.98Z"/>
<line x1="77" y1="282.4" x2="77" y2="284.9" stroke-width="1.3" />
<line x1="75.1" y1="282.4" x2="78.9" y2="282.4" stroke-width="1.3" />
<path d="M77 282.68L79.03 286.38L74.97 286.38Z"/>
<line x1="84" y1="283.1" x2="84" y2="285.6" stroke-width="1.3" />
<line x1="82.1" y1="283.1" x2="85.9" y2="283.1" stroke-width="1.3" />
<path d="M84 283.38L86.03 287.08L81.97 287.08Z"/>
<line x1="101.8" y1="282.3" x2="101.8" y2="285.3" stroke-width="1.3" />
<line x1="99.9" y1="282.3" x2="103.7" y2="282.3" stroke-width="1.3" />
<path d="M101.8 283.08L103.83 286.78L99.77 286.78Z"/>
<line x1="110.5" y1="282.6" x2="110.5" y2="285.6" stroke-width="1.3" />
<line x1="108.6" y1="282.6" x2="112.4" y2="282.6" stroke-width="1.3" />
<path d="M110.5 283.38L112.53 287.08L108.47 287.08Z"/>
<line x1="119.7" y1="278.8" x2="119.7" y2="281.8" stroke-width="1.3" />
<line x1="117.8" y1="278.8" x2="121.6" y2="278.8" stroke-width="1.3" />
<path d="M119.7 279.58L121.73 283.28L117.67 283.28Z"/>
<line x1="126.2" y1="279" x2="126.2" y2="281.5" stroke-width="1.3" />
<line x1="124.3" y1="279" x2="128.1" y2="279" stroke-width="1.3" />
<path d="M126.2 279.28L128.24 282.98L124.17 282.98Z"/>
<line x1="135.4" y1="275.7" x2="135.4" y2="279.2" stroke-width="1.3" />
<line x1="133.5" y1="275.7" x2="137.3" y2="275.7" stroke-width="1.3" />
<path d="M135.4 276.98L137.44 280.68L133.37 280.68Z"/>
<path class="l" d="M32.1 291.7 L41.3 289.4 L48.3 280.5 L59.6 276.4 L77 268.5 L84 269.4 L101.8 260.9 L110.5 259.2 L119.7 253 L126.2 244.4 L135.4 238.2" fill="none" stroke-width="1.2" />
<line x1="32.1" y1="290.2" x2="32.1" y2="291.7" stroke-width="1.3" />
<line x1="30.2" y1="290.2" x2="34" y2="290.2" stroke-width="1.3" />
<rect x="30.25" y="289.85" width="3.7" height="3.7"/>
<line x1="41.3" y1="287.4" x2="41.3" y2="289.4" stroke-width="1.3" />
<line x1="39.4" y1="287.4" x2="43.2" y2="287.4" stroke-width="1.3" />
<rect x="39.45" y="287.55" width="3.7" height="3.7"/>
<line x1="48.3" y1="278.5" x2="48.3" y2="280.5" stroke-width="1.3" />
<line x1="46.4" y1="278.5" x2="50.2" y2="278.5" stroke-width="1.3" />
<rect x="46.45" y="278.65" width="3.7" height="3.7"/>
<line x1="59.6" y1="273.9" x2="59.6" y2="276.4" stroke-width="1.3" />
<line x1="57.7" y1="273.9" x2="61.5" y2="273.9" stroke-width="1.3" />
<rect x="57.75" y="274.55" width="3.7" height="3.7"/>
<line x1="77" y1="266" x2="77" y2="268.5" stroke-width="1.3" />
<line x1="75.1" y1="266" x2="78.9" y2="266" stroke-width="1.3" />
<rect x="75.15" y="266.65" width="3.7" height="3.7"/>
<line x1="84" y1="266.9" x2="84" y2="269.4" stroke-width="1.3" />
<line x1="82.1" y1="266.9" x2="85.9" y2="266.9" stroke-width="1.3" />
<rect x="82.15" y="267.55" width="3.7" height="3.7"/>
<line x1="101.8" y1="257.9" x2="101.8" y2="260.9" stroke-width="1.3" />
<line x1="99.9" y1="257.9" x2="103.7" y2="257.9" stroke-width="1.3" />
<rect x="99.95" y="259.05" width="3.7" height="3.7"/>
<line x1="110.5" y1="254.2" x2="110.5" y2="259.2" stroke-width="1.3" />
<line x1="108.6" y1="254.2" x2="112.4" y2="254.2" stroke-width="1.3" />
<rect x="108.65" y="257.35" width="3.7" height="3.7"/>
<line x1="119.7" y1="247.8" x2="119.7" y2="253" stroke-width="1.3" />
<line x1="117.8" y1="247.8" x2="121.6" y2="247.8" stroke-width="1.3" />
<rect x="117.85" y="251.15" width="3.7" height="3.7"/>
<line x1="126.2" y1="239.4" x2="126.2" y2="244.4" stroke-width="1.3" />
<line x1="124.3" y1="239.4" x2="128.1" y2="239.4" stroke-width="1.3" />
<rect x="124.35" y="242.55" width="3.7" height="3.7"/>
<line x1="135.4" y1="231.7" x2="135.4" y2="238.2" stroke-width="1.3" />
<line x1="133.5" y1="231.7" x2="137.3" y2="231.7" stroke-width="1.3" />
<rect x="133.55" y="236.35" width="3.7" height="3.7"/>
<path class="l" d="M32.1 291.7 L41.3 288.5 L48.3 279.8 L59.6 272.1 L77 266.2 L84 261.6 L101.8 256.5 L110.5 249 L119.7 236.3 L126.2 226.9 L135.4 215.6" fill="none" stroke-width="1.2" />
<line x1="32.1" y1="290.2" x2="32.1" y2="291.7" stroke-width="1.3" />
<line x1="30.2" y1="290.2" x2="34" y2="290.2" stroke-width="1.3" />
<circle cx="32.1" cy="291.7" r="1.85"/>
<line x1="41.3" y1="285.5" x2="41.3" y2="288.5" stroke-width="1.3" />
<line x1="39.4" y1="285.5" x2="43.2" y2="285.5" stroke-width="1.3" />
<circle cx="41.3" cy="288.5" r="1.85"/>
<line x1="48.3" y1="276.8" x2="48.3" y2="279.8" stroke-width="1.3" />
<line x1="46.4" y1="276.8" x2="50.2" y2="276.8" stroke-width="1.3" />
<circle cx="48.3" cy="279.8" r="1.85"/>
<line x1="59.6" y1="269.1" x2="59.6" y2="272.1" stroke-width="1.3" />
<line x1="57.7" y1="269.1" x2="61.5" y2="269.1" stroke-width="1.3" />
<circle cx="59.6" cy="272.1" r="1.85"/>
<line x1="77" y1="263.2" x2="77" y2="266.2" stroke-width="1.3" />
<line x1="75.1" y1="263.2" x2="78.9" y2="263.2" stroke-width="1.3" />
<circle cx="77" cy="266.2" r="1.85"/>
<line x1="84" y1="257.1" x2="84" y2="261.6" stroke-width="1.3" />
<line x1="82.1" y1="257.1" x2="85.9" y2="257.1" stroke-width="1.3" />
<circle cx="84" cy="261.6" r="1.85"/>
<line x1="101.8" y1="251.3" x2="101.8" y2="256.5" stroke-width="1.3" />
<line x1="99.9" y1="251.3" x2="103.7" y2="251.3" stroke-width="1.3" />
<circle cx="101.8" cy="256.5" r="1.85"/>
<line x1="110.5" y1="241.7" x2="110.5" y2="249" stroke-width="1.3" />
<line x1="108.6" y1="241.7" x2="112.4" y2="241.7" stroke-width="1.3" />
<circle cx="110.5" cy="249" r="1.85"/>
<line x1="119.7" y1="227.3" x2="119.7" y2="236.3" stroke-width="1.3" />
<line x1="117.8" y1="227.3" x2="121.6" y2="227.3" stroke-width="1.3" />
<circle cx="119.7" cy="236.3" r="1.85"/>
<line x1="126.2" y1="216.9" x2="126.2" y2="226.9" stroke-width="1.3" />
<line x1="124.3" y1="216.9" x2="128.1" y2="216.9" stroke-width="1.3" />
<circle cx="126.2" cy="226.9" r="1.85"/>
<line x1="135.4" y1="202.8" x2="135.4" y2="215.6" stroke-width="1.3" />
<line x1="133.5" y1="202.8" x2="137.3" y2="202.8" stroke-width="1.3" />
<circle cx="135.4" cy="215.6" r="1.85"/>
<path class="l" d="M139.5 238.5 L142.3 238.5 L142.3 284.1 L139.5 284.1" fill="none" stroke-width="0.9"/>
<text x="147.5" y="263.4" font-size="6.5" text-anchor="middle" fill="#111">*</text>
<text x="144.2" y="266" font-size="6.0" fill="#1a1a1a"><tspan font-style="italic">P</tspan> &lt; 0.05</text>
<text x="90.1" y="314.6" font-size="6.1" text-anchor="middle" fill="#111">Days after inoculation</text>
<text transform="translate(8.5,245.3) rotate(-90)" font-size="6.4" text-anchor="middle" class="tk">Tumor volume (mm<tspan font-size="3.97" dy="-2.2">3</tspan><tspan dy="2.2">)</tspan></text>
<text x="261.5" y="181.2" font-size="5.95" text-anchor="middle" fill="#111">SCC1483</text>
<path class="l" d="M204.6 188.6 L204.6 297.7 L316.6 297.7" fill="none" stroke-width="1.45"/>
<line x1="202.2" y1="297.7" x2="204.6" y2="297.7" stroke-width="1.2" />
<text x="200.4" y="299.6" font-size="5.3" text-anchor="end" class="tk">0</text>
<line x1="202.2" y1="279.52" x2="204.6" y2="279.52" stroke-width="1.2" />
<text x="200.4" y="281.42" font-size="5.3" text-anchor="end" class="tk">1,000</text>
<line x1="202.2" y1="261.33" x2="204.6" y2="261.33" stroke-width="1.2" />
<text x="200.4" y="263.23" font-size="5.3" text-anchor="end" class="tk">2,000</text>
<line x1="202.2" y1="243.15" x2="204.6" y2="243.15" stroke-width="1.2" />
<text x="200.4" y="245.05" font-size="5.3" text-anchor="end" class="tk">3,000</text>
<line x1="202.2" y1="224.97" x2="204.6" y2="224.97" stroke-width="1.2" />
<text x="200.4" y="226.87" font-size="5.3" text-anchor="end" class="tk">4,000</text>
<line x1="202.2" y1="206.78" x2="204.6" y2="206.78" stroke-width="1.2" />
<text x="200.4" y="208.68" font-size="5.3" text-anchor="end" class="tk">5,000</text>
<line x1="202.2" y1="188.6" x2="204.6" y2="188.6" stroke-width="1.2" />
<text x="200.4" y="190.5" font-size="5.3" text-anchor="end" class="tk">6,000</text>
<line x1="205.3" y1="297.7" x2="205.3" y2="299.9" stroke-width="1.2" />
<text x="205.3" y="304.6" font-size="5.3" text-anchor="middle" class="tk">10</text>
<line x1="219.21" y1="297.7" x2="219.21" y2="299.9" stroke-width="1.2" />
<text x="219.21" y="304.6" font-size="5.3" text-anchor="middle" class="tk">15</text>
<line x1="233.12" y1="297.7" x2="233.12" y2="299.9" stroke-width="1.2" />
<text x="233.12" y="304.6" font-size="5.3" text-anchor="middle" class="tk">20</text>
<line x1="247.04" y1="297.7" x2="247.04" y2="299.9" stroke-width="1.2" />
<text x="247.04" y="304.6" font-size="5.3" text-anchor="middle" class="tk">25</text>
<line x1="260.95" y1="297.7" x2="260.95" y2="299.9" stroke-width="1.2" />
<text x="260.95" y="304.6" font-size="5.3" text-anchor="middle" class="tk">30</text>
<line x1="274.86" y1="297.7" x2="274.86" y2="299.9" stroke-width="1.2" />
<text x="274.86" y="304.6" font-size="5.3" text-anchor="middle" class="tk">35</text>
<line x1="288.78" y1="297.7" x2="288.78" y2="299.9" stroke-width="1.2" />
<text x="288.78" y="304.6" font-size="5.3" text-anchor="middle" class="tk">40</text>
<line x1="302.69" y1="297.7" x2="302.69" y2="299.9" stroke-width="1.2" />
<text x="302.69" y="304.6" font-size="5.3" text-anchor="middle" class="tk">45</text>
<line x1="316.6" y1="297.7" x2="316.6" y2="299.9" stroke-width="1.2" />
<text x="316.6" y="304.6" font-size="5.3" text-anchor="middle" class="tk">50</text>
<line x1="211" y1="193.1" x2="218.6" y2="193.1" stroke-width="1.2" />
<circle cx="214.8" cy="193.1" r="1.8"/>
<text x="221.1" y="195" font-size="5.3" text-anchor="start" fill="#111">Control</text>
<line x1="211" y1="199.4" x2="218.6" y2="199.4" stroke-width="1.2" />
<rect x="213" y="197.6" width="3.6" height="3.6"/>
<text x="221.1" y="201.3" font-size="5.3" text-anchor="start" fill="#111">MEHD</text>
<line x1="211" y1="205.7" x2="218.6" y2="205.7" stroke-width="1.2" stroke-dasharray="2.2 1.4 0.8 1.4"/>
<path d="M214.8 203.54L216.78 207.14L212.82 207.14Z"/>
<text x="221.1" y="207.6" font-size="5.3" text-anchor="start" fill="#111">XRT</text>
<line x1="211" y1="212.1" x2="218.6" y2="212.1" stroke-width="1.2" />
<path d="M214.8 214.26L216.78 210.66L212.82 210.66Z"/>
<text x="221.1" y="214" font-size="5.3" text-anchor="start" fill="#111">XRT+MEHD</text>
<circle cx="209" cy="232.1" r="0.7"/>
<text x="211.6" y="234" font-size="5.3" text-anchor="start" fill="#111">MEHD 4 mg/kg</text>
<circle cx="252.0" cy="233.0" r="1.5"/>
<text x="255.3" y="234.3" font-size="5.3" text-anchor="start" fill="#111">XRT</text>
<text x="268.3" y="234.3" font-size="5.3" text-anchor="start" fill="#111">3 Gy</text>
<circle cx="209" cy="242.1" r="0.7"/>
<circle cx="209" cy="249.2" r="1.65"/>
<circle cx="217.8" cy="242.1" r="0.7"/>
<circle cx="217.8" cy="249.2" r="1.65"/>
<circle cx="226.6" cy="242.1" r="0.7"/>
<circle cx="226.6" cy="249.2" r="1.65"/>
<circle cx="235.6" cy="242.1" r="0.7"/>
<circle cx="235.6" cy="249.2" r="1.65"/>
<circle cx="244.7" cy="242.1" r="0.7"/>
<circle cx="244.7" cy="249.2" r="1.65"/>
<circle cx="253.4" cy="242.1" r="0.7"/>
<circle cx="253.4" cy="249.2" r="1.65"/>
<path class="l" d="M205.8 295.9 L218.4 293.5 L227.2 292 L238.2 292 L246.5 288.8 L260.7 289.7 L268.7 289.7 L279.7 289.7 L288.8 286.5 L299.6 285.2 L308.1 284.6" fill="none" stroke-width="1.2" stroke-dasharray="3.6 1.5"/>
<path d="M205.8 298.12L207.84 294.42L203.77 294.42Z"/>
<line x1="218.4" y1="292.5" x2="218.4" y2="293.5" stroke-width="1.3" />
<line x1="216.5" y1="292.5" x2="220.3" y2="292.5" stroke-width="1.3" />
<path d="M218.4 295.72L220.44 292.02L216.37 292.02Z"/>
<line x1="227.2" y1="291" x2="227.2" y2="292" stroke-width="1.3" />
<line x1="225.3" y1="291" x2="229.1" y2="291" stroke-width="1.3" />
<path d="M227.2 294.22L229.23 290.52L225.16 290.52Z"/>
<line x1="238.2" y1="291" x2="238.2" y2="292" stroke-width="1.3" />
<line x1="236.3" y1="291" x2="240.1" y2="291" stroke-width="1.3" />
<path d="M238.2 294.22L240.23 290.52L236.16 290.52Z"/>
<line x1="246.5" y1="287.8" x2="246.5" y2="288.8" stroke-width="1.3" />
<line x1="244.6" y1="287.8" x2="248.4" y2="287.8" stroke-width="1.3" />
<path d="M246.5 291.02L248.53 287.32L244.47 287.32Z"/>
<line x1="260.7" y1="288.5" x2="260.7" y2="289.7" stroke-width="1.3" />
<line x1="258.8" y1="288.5" x2="262.6" y2="288.5" stroke-width="1.3" />
<path d="M260.7 291.92L262.74 288.22L258.66 288.22Z"/>
<line x1="268.7" y1="288.2" x2="268.7" y2="289.7" stroke-width="1.3" />
<line x1="266.8" y1="288.2" x2="270.6" y2="288.2" stroke-width="1.3" />
<path d="M268.7 291.92L270.74 288.22L266.66 288.22Z"/>
<line x1="279.7" y1="288.2" x2="279.7" y2="289.7" stroke-width="1.3" />
<line x1="277.8" y1="288.2" x2="281.6" y2="288.2" stroke-width="1.3" />
<path d="M279.7 291.92L281.74 288.22L277.66 288.22Z"/>
<line x1="288.8" y1="285" x2="288.8" y2="286.5" stroke-width="1.3" />
<line x1="286.9" y1="285" x2="290.7" y2="285" stroke-width="1.3" />
<path d="M288.8 288.72L290.84 285.02L286.76 285.02Z"/>
<line x1="299.6" y1="283.4" x2="299.6" y2="285.2" stroke-width="1.3" />
<line x1="297.7" y1="283.4" x2="301.5" y2="283.4" stroke-width="1.3" />
<path d="M299.6 287.42L301.64 283.72L297.56 283.72Z"/>
<line x1="308.1" y1="282.6" x2="308.1" y2="284.6" stroke-width="1.3" />
<line x1="306.2" y1="282.6" x2="310" y2="282.6" stroke-width="1.3" />
<path d="M308.1 286.82L310.14 283.12L306.06 283.12Z"/>
<path class="l" d="M205.8 295.9 L218.4 293 L227.2 291 L238.2 286.4 L246.5 282.4 L260.7 277.5 L268.7 280.4 L279.7 275.7 L288.8 274.2 L299.6 268.1 L308.1 268.5" fill="none" stroke-width="1.2" stroke-dasharray="3.6 1.5"/>
<rect x="203.95" y="294.05" width="3.7" height="3.7"/>
<line x1="218.4" y1="292" x2="218.4" y2="293" stroke-width="1.3" />
<line x1="216.5" y1="292" x2="220.3" y2="292" stroke-width="1.3" />
<rect x="216.55" y="291.15" width="3.7" height="3.7"/>
<line x1="227.2" y1="290" x2="227.2" y2="291" stroke-width="1.3" />
<line x1="225.3" y1="290" x2="229.1" y2="290" stroke-width="1.3" />
<rect x="225.35" y="289.15" width="3.7" height="3.7"/>
<line x1="238.2" y1="284.4" x2="238.2" y2="286.4" stroke-width="1.3" />
<line x1="236.3" y1="284.4" x2="240.1" y2="284.4" stroke-width="1.3" />
<rect x="236.35" y="284.55" width="3.7" height="3.7"/>
<line x1="246.5" y1="280.4" x2="246.5" y2="282.4" stroke-width="1.3" />
<line x1="244.6" y1="280.4" x2="248.4" y2="280.4" stroke-width="1.3" />
<rect x="244.65" y="280.55" width="3.7" height="3.7"/>
<line x1="260.7" y1="274.1" x2="260.7" y2="277.5" stroke-width="1.3" />
<line x1="258.8" y1="274.1" x2="262.6" y2="274.1" stroke-width="1.3" />
<rect x="258.85" y="275.65" width="3.7" height="3.7"/>
<line x1="268.7" y1="277.9" x2="268.7" y2="280.4" stroke-width="1.3" />
<line x1="266.8" y1="277.9" x2="270.6" y2="277.9" stroke-width="1.3" />
<rect x="266.85" y="278.55" width="3.7" height="3.7"/>
<line x1="279.7" y1="273.2" x2="279.7" y2="275.7" stroke-width="1.3" />
<line x1="277.8" y1="273.2" x2="281.6" y2="273.2" stroke-width="1.3" />
<rect x="277.85" y="273.85" width="3.7" height="3.7"/>
<line x1="288.8" y1="271.7" x2="288.8" y2="274.2" stroke-width="1.3" />
<line x1="286.9" y1="271.7" x2="290.7" y2="271.7" stroke-width="1.3" />
<rect x="286.95" y="272.35" width="3.7" height="3.7"/>
<line x1="299.6" y1="264.7" x2="299.6" y2="268.1" stroke-width="1.3" />
<line x1="297.7" y1="264.7" x2="301.5" y2="264.7" stroke-width="1.3" />
<rect x="297.75" y="266.25" width="3.7" height="3.7"/>
<line x1="308.1" y1="264.7" x2="308.1" y2="268.5" stroke-width="1.3" />
<line x1="306.2" y1="264.7" x2="310" y2="264.7" stroke-width="1.3" />
<rect x="306.25" y="266.65" width="3.7" height="3.7"/>
<path class="l" d="M205.8 295.9 L218.4 292.4 L227.2 290 L238.2 284 L246.5 276.9 L260.7 268 L268.7 258 L279.7 245.3 L288.8 233 L299.6 219.7 L308.1 214" fill="none" stroke-width="0.9" stroke-dasharray="1.2 1.8"/>
<path d="M205.8 293.68L207.84 297.38L203.77 297.38Z"/>
<line x1="218.4" y1="291.4" x2="218.4" y2="292.4" stroke-width="1.3" />
<line x1="216.5" y1="291.4" x2="220.3" y2="291.4" stroke-width="1.3" />
<path d="M218.4 290.18L220.44 293.88L216.37 293.88Z"/>
<line x1="227.2" y1="288.5" x2="227.2" y2="290" stroke-width="1.3" />
<line x1="225.3" y1="288.5" x2="229.1" y2="288.5" stroke-width="1.3" />
<path d="M227.2 287.78L229.23 291.48L225.16 291.48Z"/>
<line x1="238.2" y1="281" x2="238.2" y2="284" stroke-width="1.3" />
<line x1="236.3" y1="281" x2="240.1" y2="281" stroke-width="1.3" />
<path d="M238.2 281.78L240.23 285.48L236.16 285.48Z"/>
<line x1="246.5" y1="272.9" x2="246.5" y2="276.9" stroke-width="1.3" />
<line x1="244.6" y1="272.9" x2="248.4" y2="272.9" stroke-width="1.3" />
<path d="M246.5 274.68L248.53 278.38L244.47 278.38Z"/>
<line x1="260.7" y1="263" x2="260.7" y2="268" stroke-width="1.3" />
<line x1="258.8" y1="263" x2="262.6" y2="263" stroke-width="1.3" />
<path d="M260.7 265.78L262.74 269.48L258.66 269.48Z"/>
<line x1="268.7" y1="251" x2="268.7" y2="258" stroke-width="1.3" />
<line x1="266.8" y1="251" x2="270.6" y2="251" stroke-width="1.3" />
<path d="M268.7 255.78L270.74 259.48L266.66 259.48Z"/>
<line x1="279.7" y1="237.3" x2="279.7" y2="245.3" stroke-width="1.3" />
<line x1="277.8" y1="237.3" x2="281.6" y2="237.3" stroke-width="1.3" />
<path d="M279.7 243.08L281.74 246.78L277.66 246.78Z"/>
<line x1="288.8" y1="227" x2="288.8" y2="233" stroke-width="1.3" />
<line x1="286.9" y1="227" x2="290.7" y2="227" stroke-width="1.3" />
<path d="M288.8 230.78L290.84 234.48L286.76 234.48Z"/>
<line x1="299.6" y1="213.2" x2="299.6" y2="219.7" stroke-width="1.3" />
<line x1="297.7" y1="213.2" x2="301.5" y2="213.2" stroke-width="1.3" />
<path d="M299.6 217.48L301.64 221.18L297.56 221.18Z"/>
<line x1="308.1" y1="203" x2="308.1" y2="214" stroke-width="1.3" />
<line x1="306.2" y1="203" x2="310" y2="203" stroke-width="1.3" />
<path d="M308.1 211.78L310.14 215.48L306.06 215.48Z"/>
<path class="l" d="M205.8 295.9 L218.4 292.4 L227.2 289.6 L238.2 280.9 L246.5 273.4 L260.7 265.4 L268.7 257.1 L279.7 250 L288.8 240.5 L299.6 230.1 L308.1 222" fill="none" stroke-width="1.2" />
<circle cx="205.8" cy="295.9" r="1.85"/>
<line x1="218.4" y1="291.4" x2="218.4" y2="292.4" stroke-width="1.3" />
<line x1="216.5" y1="291.4" x2="220.3" y2="291.4" stroke-width="1.3" />
<circle cx="218.4" cy="292.4" r="1.85"/>
<line x1="227.2" y1="288.1" x2="227.2" y2="289.6" stroke-width="1.3" />
<line x1="225.3" y1="288.1" x2="229.1" y2="288.1" stroke-width="1.3" />
<circle cx="227.2" cy="289.6" r="1.85"/>
<line x1="238.2" y1="277.9" x2="238.2" y2="280.9" stroke-width="1.3" />
<line x1="236.3" y1="277.9" x2="240.1" y2="277.9" stroke-width="1.3" />
<circle cx="238.2" cy="280.9" r="1.85"/>
<line x1="246.5" y1="269.4" x2="246.5" y2="273.4" stroke-width="1.3" />
<line x1="244.6" y1="269.4" x2="248.4" y2="269.4" stroke-width="1.3" />
<circle cx="246.5" cy="273.4" r="1.85"/>
<line x1="260.7" y1="259.9" x2="260.7" y2="265.4" stroke-width="1.3" />
<line x1="258.8" y1="259.9" x2="262.6" y2="259.9" stroke-width="1.3" />
<circle cx="260.7" cy="265.4" r="1.85"/>
<line x1="268.7" y1="249.5" x2="268.7" y2="257.1" stroke-width="1.3" />
<line x1="266.8" y1="249.5" x2="270.6" y2="249.5" stroke-width="1.3" />
<circle cx="268.7" cy="257.1" r="1.85"/>
<line x1="279.7" y1="242" x2="279.7" y2="250" stroke-width="1.3" />
<line x1="277.8" y1="242" x2="281.6" y2="242" stroke-width="1.3" />
<line x1="279.7" y1="250" x2="279.7" y2="257" stroke-width="1.3" />
<line x1="277.8" y1="257" x2="281.6" y2="257" stroke-width="1.3" />
<circle cx="279.7" cy="250" r="1.85"/>
<line x1="288.8" y1="230.5" x2="288.8" y2="240.5" stroke-width="1.3" />
<line x1="286.9" y1="230.5" x2="290.7" y2="230.5" stroke-width="1.3" />
<line x1="288.8" y1="240.5" x2="288.8" y2="249.5" stroke-width="1.3" />
<line x1="286.9" y1="249.5" x2="290.7" y2="249.5" stroke-width="1.3" />
<circle cx="288.8" cy="240.5" r="1.85"/>
<line x1="299.6" y1="218.1" x2="299.6" y2="230.1" stroke-width="1.3" />
<line x1="297.7" y1="218.1" x2="301.5" y2="218.1" stroke-width="1.3" />
<line x1="299.6" y1="230.1" x2="299.6" y2="235.1" stroke-width="1.3" />
<line x1="297.7" y1="235.1" x2="301.5" y2="235.1" stroke-width="1.3" />
<circle cx="299.6" cy="230.1" r="1.85"/>
<line x1="308.1" y1="208" x2="308.1" y2="222" stroke-width="1.3" />
<line x1="306.2" y1="208" x2="310" y2="208" stroke-width="1.3" />
<line x1="308.1" y1="222" x2="308.1" y2="231" stroke-width="1.3" />
<line x1="306.2" y1="231" x2="310" y2="231" stroke-width="1.3" />
<circle cx="308.1" cy="222" r="1.85"/>
<path class="l" d="M311.5 230.2 L314 230.2 L314 283.9 L311.5 283.9" fill="none" stroke-width="0.9"/>
<text x="321.7" y="261.2" font-size="6.5" text-anchor="middle" fill="#111">*</text>
<text x="317.9" y="263.1" font-size="6.0" fill="#1a1a1a"><tspan font-style="italic">P</tspan> &lt; 0.05</text>
<text x="264.6" y="314.6" font-size="6.1" text-anchor="middle" fill="#111">Days after inoculation</text>
<text transform="translate(181,241) rotate(-90)" font-size="6.4" text-anchor="middle" class="tk">Tumor volume (mm<tspan font-size="3.97" dy="-2.2">3</tspan><tspan dy="2.2">)</tspan></text>
<text x="432.6" y="182.8" font-size="5.9" text-anchor="middle" fill="#111">H226</text>
<path class="l" d="M376.2 189.5 L376.2 298.2 L488.5 298.2" fill="none" stroke-width="1.45"/>
<line x1="373.8" y1="298.2" x2="376.2" y2="298.2" stroke-width="1.2" />
<text x="372" y="300.1" font-size="5.3" text-anchor="end" class="tk">0</text>
<line x1="373.8" y1="282.67" x2="376.2" y2="282.67" stroke-width="1.2" />
<text x="372" y="284.57" font-size="5.3" text-anchor="end" class="tk">200</text>
<line x1="373.8" y1="267.14" x2="376.2" y2="267.14" stroke-width="1.2" />
<text x="372" y="269.04" font-size="5.3" text-anchor="end" class="tk">400</text>
<line x1="373.8" y1="251.61" x2="376.2" y2="251.61" stroke-width="1.2" />
<text x="372" y="253.51" font-size="5.3" text-anchor="end" class="tk">600</text>
<line x1="373.8" y1="236.09" x2="376.2" y2="236.09" stroke-width="1.2" />
<text x="372" y="237.99" font-size="5.3" text-anchor="end" class="tk">800</text>
<line x1="373.8" y1="220.56" x2="376.2" y2="220.56" stroke-width="1.2" />
<text x="372" y="222.46" font-size="5.3" text-anchor="end" class="tk">1,000</text>
<line x1="373.8" y1="205.03" x2="376.2" y2="205.03" stroke-width="1.2" />
<text x="372" y="206.93" font-size="5.3" text-anchor="end" class="tk">1,200</text>
<line x1="373.8" y1="189.5" x2="376.2" y2="189.5" stroke-width="1.2" />
<text x="372" y="191.4" font-size="5.3" text-anchor="end" class="tk">1,400</text>
<line x1="376.5" y1="298.2" x2="376.5" y2="300.4" stroke-width="1.2" />
<text x="376.5" y="305.1" font-size="5.3" text-anchor="middle" class="tk">20</text>
<line x1="395.17" y1="298.2" x2="395.17" y2="300.4" stroke-width="1.2" />
<text x="395.17" y="305.1" font-size="5.3" text-anchor="middle" class="tk">25</text>
<line x1="413.83" y1="298.2" x2="413.83" y2="300.4" stroke-width="1.2" />
<text x="413.83" y="305.1" font-size="5.3" text-anchor="middle" class="tk">30</text>
<line x1="432.5" y1="298.2" x2="432.5" y2="300.4" stroke-width="1.2" />
<text x="432.5" y="305.1" font-size="5.3" text-anchor="middle" class="tk">35</text>
<line x1="451.17" y1="298.2" x2="451.17" y2="300.4" stroke-width="1.2" />
<text x="451.17" y="305.1" font-size="5.3" text-anchor="middle" class="tk">40</text>
<line x1="469.83" y1="298.2" x2="469.83" y2="300.4" stroke-width="1.2" />
<text x="469.83" y="305.1" font-size="5.3" text-anchor="middle" class="tk">45</text>
<line x1="488.5" y1="298.2" x2="488.5" y2="300.4" stroke-width="1.2" />
<text x="488.5" y="305.1" font-size="5.3" text-anchor="middle" class="tk">50</text>
<line x1="385.4" y1="200" x2="393.4" y2="200" stroke-width="1.2" />
<circle cx="389.4" cy="200" r="1.8"/>
<text x="395.9" y="201.9" font-size="5.3" text-anchor="start" fill="#111">Control</text>
<line x1="385.4" y1="206.6" x2="393.4" y2="206.6" stroke-width="1.2" />
<rect x="387.6" y="204.8" width="3.6" height="3.6"/>
<text x="395.9" y="208.5" font-size="5.3" text-anchor="start" fill="#111">MEHD7945A</text>
<line x1="385.4" y1="213.3" x2="393.4" y2="213.3" stroke-width="1.2" stroke-dasharray="2.2 1.4 0.8 1.4"/>
<path d="M389.4 211.14L391.38 214.74L387.42 214.74Z"/>
<text x="395.9" y="215.2" font-size="5.3" text-anchor="start" fill="#111">XRT</text>
<line x1="385.4" y1="219.9" x2="393.4" y2="219.9" stroke-width="1.2" />
<path d="M389.4 222.06L391.38 218.46L387.42 218.46Z"/>
<text x="395.9" y="221.8" font-size="5.3" text-anchor="start" fill="#111">XRT+MEHD7945A</text>
<circle cx="380.2" cy="235.7" r="0.7"/>
<text x="382.4" y="237.6" font-size="5.3" text-anchor="start" fill="#111">MEHD 4 mg/kg</text>
<circle cx="421.9" cy="236.6" r="1.8"/>
<text x="424.6" y="237.8" font-size="5.3" text-anchor="start" fill="#111">XRT 1.5 Gy</text>
<circle cx="380.2" cy="248.8" r="0.7"/>
<circle cx="394.7" cy="248.8" r="0.7"/>
<circle cx="409.4" cy="248.8" r="0.7"/>
<circle cx="420.6" cy="248.8" r="0.7"/>
<circle cx="434.4" cy="248.8" r="0.7"/>
<circle cx="380.2" cy="256.4" r="1.7"/>
<circle cx="394.7" cy="256.4" r="1.7"/>
<circle cx="409.4" cy="256.4" r="1.7"/>
<path class="l" d="M379.8 288.7 L394.7 285.5 L409.4 285.6 L420.8 285.8 L435.4 282 L447.4 280.5 L461.5 279 L473.5 275.5 L488.3 270.4" fill="none" stroke-width="1.2" stroke-dasharray="3.6 1.5"/>
<line x1="379.8" y1="287.7" x2="379.8" y2="288.7" stroke-width="1.3" />
<line x1="377.9" y1="287.7" x2="381.7" y2="287.7" stroke-width="1.3" />
<path d="M379.8 290.92L381.84 287.22L377.76 287.22Z"/>
<line x1="394.7" y1="284.5" x2="394.7" y2="285.5" stroke-width="1.3" />
<line x1="392.8" y1="284.5" x2="396.6" y2="284.5" stroke-width="1.3" />
<path d="M394.7 287.72L396.74 284.02L392.66 284.02Z"/>
<line x1="409.4" y1="284.6" x2="409.4" y2="285.6" stroke-width="1.3" />
<line x1="407.5" y1="284.6" x2="411.3" y2="284.6" stroke-width="1.3" />
<path d="M409.4 287.82L411.44 284.12L407.36 284.12Z"/>
<line x1="420.8" y1="284.8" x2="420.8" y2="285.8" stroke-width="1.3" />
<line x1="418.9" y1="284.8" x2="422.7" y2="284.8" stroke-width="1.3" />
<path d="M420.8 288.02L422.84 284.32L418.76 284.32Z"/>
<line x1="435.4" y1="281" x2="435.4" y2="282" stroke-width="1.3" />
<line x1="433.5" y1="281" x2="437.3" y2="281" stroke-width="1.3" />
<path d="M435.4 284.22L437.44 280.52L433.36 280.52Z"/>
<line x1="447.4" y1="279.5" x2="447.4" y2="280.5" stroke-width="1.3" />
<line x1="445.5" y1="279.5" x2="449.3" y2="279.5" stroke-width="1.3" />
<path d="M447.4 282.72L449.44 279.02L445.36 279.02Z"/>
<line x1="461.5" y1="278" x2="461.5" y2="279" stroke-width="1.3" />
<line x1="459.6" y1="278" x2="463.4" y2="278" stroke-width="1.3" />
<path d="M461.5 281.22L463.54 277.52L459.46 277.52Z"/>
<line x1="473.5" y1="274.3" x2="473.5" y2="275.5" stroke-width="1.3" />
<line x1="471.6" y1="274.3" x2="475.4" y2="274.3" stroke-width="1.3" />
<path d="M473.5 277.72L475.54 274.02L471.46 274.02Z"/>
<line x1="488.3" y1="268.9" x2="488.3" y2="270.4" stroke-width="1.3" />
<line x1="486.4" y1="268.9" x2="490.2" y2="268.9" stroke-width="1.3" />
<path d="M488.3 272.62L490.34 268.92L486.26 268.92Z"/>
<path class="l" d="M379.8 288.7 L394.7 283 L409.4 278.5 L420.8 276 L435.4 267 L447.4 259.6 L461.5 256.6 L473.5 247.5 L488.3 235.5" fill="none" stroke-width="1.2" stroke-dasharray="2.2 1.4 0.8 1.4"/>
<line x1="379.8" y1="287.7" x2="379.8" y2="288.7" stroke-width="1.3" />
<line x1="377.9" y1="287.7" x2="381.7" y2="287.7" stroke-width="1.3" />
<path d="M379.8 286.48L381.84 290.18L377.76 290.18Z"/>
<line x1="394.7" y1="281.5" x2="394.7" y2="283" stroke-width="1.3" />
<line x1="392.8" y1="281.5" x2="396.6" y2="281.5" stroke-width="1.3" />
<path d="M394.7 280.78L396.74 284.48L392.66 284.48Z"/>
<line x1="409.4" y1="276.5" x2="409.4" y2="278.5" stroke-width="1.3" />
<line x1="407.5" y1="276.5" x2="411.3" y2="276.5" stroke-width="1.3" />
<path d="M409.4 276.28L411.44 279.98L407.36 279.98Z"/>
<line x1="420.8" y1="274" x2="420.8" y2="276" stroke-width="1.3" />
<line x1="418.9" y1="274" x2="422.7" y2="274" stroke-width="1.3" />
<path d="M420.8 273.78L422.84 277.48L418.76 277.48Z"/>
<line x1="435.4" y1="264.5" x2="435.4" y2="267" stroke-width="1.3" />
<line x1="433.5" y1="264.5" x2="437.3" y2="264.5" stroke-width="1.3" />
<path d="M435.4 264.78L437.44 268.48L433.36 268.48Z"/>
<line x1="447.4" y1="256.6" x2="447.4" y2="259.6" stroke-width="1.3" />
<line x1="445.5" y1="256.6" x2="449.3" y2="256.6" stroke-width="1.3" />
<path d="M447.4 257.38L449.44 261.08L445.36 261.08Z"/>
<line x1="461.5" y1="253.6" x2="461.5" y2="256.6" stroke-width="1.3" />
<line x1="459.6" y1="253.6" x2="463.4" y2="253.6" stroke-width="1.3" />
<path d="M461.5 254.38L463.54 258.08L459.46 258.08Z"/>
<line x1="473.5" y1="244" x2="473.5" y2="247.5" stroke-width="1.3" />
<line x1="471.6" y1="244" x2="475.4" y2="244" stroke-width="1.3" />
<path d="M473.5 245.28L475.54 248.98L471.46 248.98Z"/>
<line x1="488.3" y1="230.5" x2="488.3" y2="235.5" stroke-width="1.3" />
<line x1="486.4" y1="230.5" x2="490.2" y2="230.5" stroke-width="1.3" />
<path d="M488.3 233.28L490.34 236.98L486.26 236.98Z"/>
<path class="l" d="M379.8 288.7 L394.7 282 L409.4 276 L420.8 274.9 L435.4 266 L447.4 258.5 L461.5 256.6 L473.5 244.5 L488.3 236.4" fill="none" stroke-width="1.2" stroke-dasharray="3.6 1.5"/>
<line x1="379.8" y1="287.7" x2="379.8" y2="288.7" stroke-width="1.3" />
<line x1="377.9" y1="287.7" x2="381.7" y2="287.7" stroke-width="1.3" />
<rect x="377.95" y="286.85" width="3.7" height="3.7"/>
<line x1="394.7" y1="280" x2="394.7" y2="282" stroke-width="1.3" />
<line x1="392.8" y1="280" x2="396.6" y2="280" stroke-width="1.3" />
<rect x="392.85" y="280.15" width="3.7" height="3.7"/>
<line x1="409.4" y1="273.5" x2="409.4" y2="276" stroke-width="1.3" />
<line x1="407.5" y1="273.5" x2="411.3" y2="273.5" stroke-width="1.3" />
<rect x="407.55" y="274.15" width="3.7" height="3.7"/>
<line x1="420.8" y1="271.9" x2="420.8" y2="274.9" stroke-width="1.3" />
<line x1="418.9" y1="271.9" x2="422.7" y2="271.9" stroke-width="1.3" />
<rect x="418.95" y="273.05" width="3.7" height="3.7"/>
<line x1="435.4" y1="263" x2="435.4" y2="266" stroke-width="1.3" />
<line x1="433.5" y1="263" x2="437.3" y2="263" stroke-width="1.3" />
<rect x="433.55" y="264.15" width="3.7" height="3.7"/>
<line x1="447.4" y1="252.5" x2="447.4" y2="258.5" stroke-width="1.3" />
<line x1="445.5" y1="252.5" x2="449.3" y2="252.5" stroke-width="1.3" />
<rect x="445.55" y="256.65" width="3.7" height="3.7"/>
<line x1="461.5" y1="252.6" x2="461.5" y2="256.6" stroke-width="1.3" />
<line x1="459.6" y1="252.6" x2="463.4" y2="252.6" stroke-width="1.3" />
<rect x="459.65" y="254.75" width="3.7" height="3.7"/>
<line x1="473.5" y1="233.5" x2="473.5" y2="244.5" stroke-width="1.3" />
<line x1="471.6" y1="233.5" x2="475.4" y2="233.5" stroke-width="1.3" />
<rect x="471.65" y="242.65" width="3.7" height="3.7"/>
<line x1="488.3" y1="225" x2="488.3" y2="236.4" stroke-width="1.3" />
<line x1="486.4" y1="225" x2="490.2" y2="225" stroke-width="1.3" />
<rect x="486.45" y="234.55" width="3.7" height="3.7"/>
<path class="l" d="M379.8 288.7 L394.7 280.8 L409.4 271.3 L420.8 267.3 L435.4 253 L447.4 245 L461.5 234 L473.5 222 L488.3 206.4" fill="none" stroke-width="1.2" />
<line x1="379.8" y1="287.7" x2="379.8" y2="288.7" stroke-width="1.3" />
<line x1="377.9" y1="287.7" x2="381.7" y2="287.7" stroke-width="1.3" />
<circle cx="379.8" cy="288.7" r="1.85"/>
<line x1="394.7" y1="278.8" x2="394.7" y2="280.8" stroke-width="1.3" />
<line x1="392.8" y1="278.8" x2="396.6" y2="278.8" stroke-width="1.3" />
<circle cx="394.7" cy="280.8" r="1.85"/>
<line x1="409.4" y1="268.2" x2="409.4" y2="271.3" stroke-width="1.3" />
<line x1="407.5" y1="268.2" x2="411.3" y2="268.2" stroke-width="1.3" />
<circle cx="409.4" cy="271.3" r="1.85"/>
<line x1="420.8" y1="263" x2="420.8" y2="267.3" stroke-width="1.3" />
<line x1="418.9" y1="263" x2="422.7" y2="263" stroke-width="1.3" />
<circle cx="420.8" cy="267.3" r="1.85"/>
<line x1="435.4" y1="247.8" x2="435.4" y2="253" stroke-width="1.3" />
<line x1="433.5" y1="247.8" x2="437.3" y2="247.8" stroke-width="1.3" />
<circle cx="435.4" cy="253" r="1.85"/>
<line x1="447.4" y1="240.5" x2="447.4" y2="245" stroke-width="1.3" />
<line x1="445.5" y1="240.5" x2="449.3" y2="240.5" stroke-width="1.3" />
<circle cx="447.4" cy="245" r="1.85"/>
<line x1="461.5" y1="228" x2="461.5" y2="234" stroke-width="1.3" />
<line x1="459.6" y1="228" x2="463.4" y2="228" stroke-width="1.3" />
<circle cx="461.5" cy="234" r="1.85"/>
<line x1="473.5" y1="213" x2="473.5" y2="222" stroke-width="1.3" />
<line x1="471.6" y1="213" x2="475.4" y2="213" stroke-width="1.3" />
<circle cx="473.5" cy="222" r="1.85"/>
<line x1="488.3" y1="197.4" x2="488.3" y2="206.4" stroke-width="1.3" />
<line x1="486.4" y1="197.4" x2="490.2" y2="197.4" stroke-width="1.3" />
<circle cx="488.3" cy="206.4" r="1.85"/>
<path class="l" d="M490.5 236.2 L493.8 236.2 L493.8 270.4 L490.5 270.4" fill="none" stroke-width="0.9"/>
<text x="498.9" y="252.5" font-size="6.5" text-anchor="middle" fill="#111">*</text>
<text x="496.2" y="256.4" font-size="6.0" fill="#1a1a1a"><tspan font-style="italic">P</tspan> &lt; 0.05</text>
<text x="437" y="314.6" font-size="6.1" text-anchor="middle" fill="#111">Days after inoculation</text>
<text transform="translate(353.6,241.5) rotate(-90)" font-size="6.4" text-anchor="middle" class="tk">Tumor volume (mm<tspan font-size="3.97" dy="-2.2">3</tspan><tspan dy="2.2">)</tspan></text>
</g>
</svg>
</body></html>
